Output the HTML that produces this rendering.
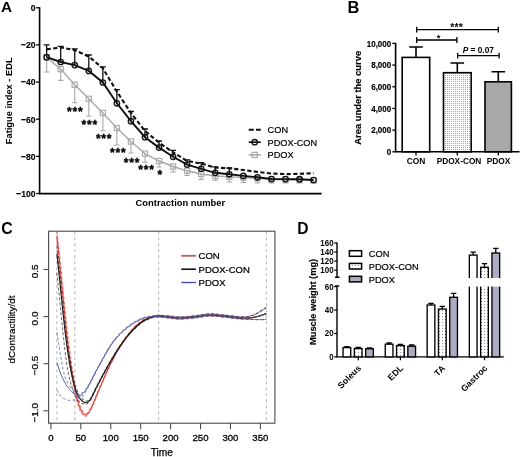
<!DOCTYPE html>
<html><head><meta charset="utf-8"><title>Figure</title>
<style>html,body{margin:0;padding:0;background:#fff;}svg{display:block;}</style></head>
<body><svg width="520" height="457" viewBox="0 0 520 457" font-family='"Liberation Sans", Arial, sans-serif' fill="#000">
<defs>
<pattern id="dots" width="2" height="2" patternUnits="userSpaceOnUse"><rect width="2" height="2" fill="#fff"/><rect x="1" y="1" width="1" height="1" fill="#a2a2a2"/></pattern>
<pattern id="dots2" width="3" height="3" patternUnits="userSpaceOnUse"><rect width="3" height="3" fill="#fff"/><rect x="1" y="1" width="1" height="1" fill="#8a8a8a"/></pattern>
</defs>
<rect width="520" height="457" fill="#fff"/>
<g id="A">
<text x="0.9" y="12.1" font-size="15.3" font-weight="bold">A</text>
<path d="M39.6 7.15V193.6H321.6" fill="none" stroke="#000" stroke-width="1.6"/>
<path d="M36.2 7.75H39.6" stroke="#000" stroke-width="1.3"/>
<text transform="translate(35.6 11.15) scale(1 1.12)" font-size="8.6" font-weight="bold" text-anchor="end" stroke="#000" stroke-width="0.15">0</text>
<path d="M36.2 44.90H39.6" stroke="#000" stroke-width="1.3"/>
<text transform="translate(35.6 48.30) scale(1 1.12)" font-size="8.6" font-weight="bold" text-anchor="end" stroke="#000" stroke-width="0.15">−20</text>
<path d="M36.2 82.05H39.6" stroke="#000" stroke-width="1.3"/>
<text transform="translate(35.6 85.45) scale(1 1.12)" font-size="8.6" font-weight="bold" text-anchor="end" stroke="#000" stroke-width="0.15">−40</text>
<path d="M36.2 119.20H39.6" stroke="#000" stroke-width="1.3"/>
<text transform="translate(35.6 122.60) scale(1 1.12)" font-size="8.6" font-weight="bold" text-anchor="end" stroke="#000" stroke-width="0.15">−60</text>
<path d="M36.2 156.35H39.6" stroke="#000" stroke-width="1.3"/>
<text transform="translate(35.6 159.75) scale(1 1.12)" font-size="8.6" font-weight="bold" text-anchor="end" stroke="#000" stroke-width="0.15">−80</text>
<path d="M36.2 193.50H39.6" stroke="#000" stroke-width="1.3"/>
<text transform="translate(35.6 196.90) scale(1 1.12)" font-size="8.6" font-weight="bold" text-anchor="end" stroke="#000" stroke-width="0.15">−100</text>
<text transform="translate(12.4 100.8) rotate(-90)" font-size="9.3" font-weight="bold" text-anchor="middle">Fatigue index - EDL</text>
<text x="180.4" y="206.3" font-size="9.4" font-weight="bold" text-anchor="middle">Contraction number</text>
<path d="M46.65 57.30V72.00M43.95 72.00H49.35" stroke="#a9a9a9" stroke-width="1.1" fill="none"/>
<path d="M60.70 69.10V80.40M58.00 80.40H63.40" stroke="#a9a9a9" stroke-width="1.1" fill="none"/>
<path d="M74.75 84.80V102.70M72.05 102.70H77.45" stroke="#a9a9a9" stroke-width="1.1" fill="none"/>
<path d="M88.80 98.80V116.20M86.10 116.20H91.50" stroke="#a9a9a9" stroke-width="1.1" fill="none"/>
<path d="M102.85 113.00V130.80M100.15 130.80H105.55" stroke="#a9a9a9" stroke-width="1.1" fill="none"/>
<path d="M116.90 128.00V145.00M114.20 145.00H119.60" stroke="#a9a9a9" stroke-width="1.1" fill="none"/>
<path d="M130.95 141.50V153.00M128.25 153.00H133.65" stroke="#a9a9a9" stroke-width="1.1" fill="none"/>
<path d="M145.00 153.60V162.30M142.30 162.30H147.70" stroke="#a9a9a9" stroke-width="1.1" fill="none"/>
<path d="M159.05 161.00V167.00M156.35 167.00H161.75" stroke="#a9a9a9" stroke-width="1.1" fill="none"/>
<path d="M173.10 166.50V172.00M170.40 172.00H175.80" stroke="#a9a9a9" stroke-width="1.1" fill="none"/>
<path d="M187.15 170.80V175.50M184.45 175.50H189.85" stroke="#a9a9a9" stroke-width="1.1" fill="none"/>
<path d="M201.20 174.00V179.40M198.50 179.40H203.90" stroke="#a9a9a9" stroke-width="1.1" fill="none"/>
<path d="M215.25 176.00V180.30M212.55 180.30H217.95" stroke="#a9a9a9" stroke-width="1.1" fill="none"/>
<path d="M229.30 176.80V182.00M226.60 182.00H232.00" stroke="#a9a9a9" stroke-width="1.1" fill="none"/>
<path d="M243.35 177.60V182.50M240.65 182.50H246.05" stroke="#a9a9a9" stroke-width="1.1" fill="none"/>
<path d="M257.40 178.40V183.00M254.70 183.00H260.10" stroke="#a9a9a9" stroke-width="1.1" fill="none"/>
<path d="M271.45 179.50V183.00M268.75 183.00H274.15" stroke="#a9a9a9" stroke-width="1.1" fill="none"/>
<path d="M285.50 179.80V183.00M282.80 183.00H288.20" stroke="#a9a9a9" stroke-width="1.1" fill="none"/>
<path d="M299.55 180.00V183.00M296.85 183.00H302.25" stroke="#a9a9a9" stroke-width="1.1" fill="none"/>
<path d="M313.60 180.40V183.00M310.90 183.00H316.30" stroke="#a9a9a9" stroke-width="1.1" fill="none"/>
<polyline points="46.65,57.30 60.70,69.10 74.75,84.80 88.80,98.80 102.85,113.00 116.90,128.00 130.95,141.50 145.00,153.60 159.05,161.00 173.10,166.50 187.15,170.80 201.20,174.00 215.25,176.00 229.30,176.80 243.35,177.60 257.40,178.40 271.45,179.50 285.50,179.80 299.55,180.00 313.60,180.40" fill="none" stroke="#a9a9a9" stroke-width="1.4"/>
<rect x="44.05" y="54.70" width="5.2" height="5.2" fill="none" stroke="#a9a9a9" stroke-width="1.15"/>
<rect x="58.10" y="66.50" width="5.2" height="5.2" fill="none" stroke="#a9a9a9" stroke-width="1.15"/>
<rect x="72.15" y="82.20" width="5.2" height="5.2" fill="none" stroke="#a9a9a9" stroke-width="1.15"/>
<rect x="86.20" y="96.20" width="5.2" height="5.2" fill="none" stroke="#a9a9a9" stroke-width="1.15"/>
<rect x="100.25" y="110.40" width="5.2" height="5.2" fill="none" stroke="#a9a9a9" stroke-width="1.15"/>
<rect x="114.30" y="125.40" width="5.2" height="5.2" fill="none" stroke="#a9a9a9" stroke-width="1.15"/>
<rect x="128.35" y="138.90" width="5.2" height="5.2" fill="none" stroke="#a9a9a9" stroke-width="1.15"/>
<rect x="142.40" y="151.00" width="5.2" height="5.2" fill="none" stroke="#a9a9a9" stroke-width="1.15"/>
<rect x="156.45" y="158.40" width="5.2" height="5.2" fill="none" stroke="#a9a9a9" stroke-width="1.15"/>
<rect x="170.50" y="163.90" width="5.2" height="5.2" fill="none" stroke="#a9a9a9" stroke-width="1.15"/>
<rect x="184.55" y="168.20" width="5.2" height="5.2" fill="none" stroke="#a9a9a9" stroke-width="1.15"/>
<rect x="198.60" y="171.40" width="5.2" height="5.2" fill="none" stroke="#a9a9a9" stroke-width="1.15"/>
<rect x="212.65" y="173.40" width="5.2" height="5.2" fill="none" stroke="#a9a9a9" stroke-width="1.15"/>
<rect x="226.70" y="174.20" width="5.2" height="5.2" fill="none" stroke="#a9a9a9" stroke-width="1.15"/>
<rect x="240.75" y="175.00" width="5.2" height="5.2" fill="none" stroke="#a9a9a9" stroke-width="1.15"/>
<rect x="254.80" y="175.80" width="5.2" height="5.2" fill="none" stroke="#a9a9a9" stroke-width="1.15"/>
<rect x="268.85" y="176.90" width="5.2" height="5.2" fill="none" stroke="#a9a9a9" stroke-width="1.15"/>
<rect x="282.90" y="177.20" width="5.2" height="5.2" fill="none" stroke="#a9a9a9" stroke-width="1.15"/>
<rect x="296.95" y="177.40" width="5.2" height="5.2" fill="none" stroke="#a9a9a9" stroke-width="1.15"/>
<rect x="311.00" y="177.80" width="5.2" height="5.2" fill="none" stroke="#a9a9a9" stroke-width="1.15"/>
<path d="M46.65 57.20V44.80M43.65 44.80H49.65" stroke="#111" stroke-width="1.3" fill="none"/>
<path d="M60.70 62.00V46.40M57.70 46.40H63.70" stroke="#111" stroke-width="1.3" fill="none"/>
<path d="M74.75 65.10V48.80M71.75 48.80H77.75" stroke="#111" stroke-width="1.3" fill="none"/>
<path d="M88.80 70.90V55.00M85.80 55.00H91.80" stroke="#111" stroke-width="1.3" fill="none"/>
<path d="M102.85 82.50V66.90M99.85 66.90H105.85" stroke="#111" stroke-width="1.3" fill="none"/>
<path d="M116.90 103.30V89.60M113.90 89.60H119.90" stroke="#111" stroke-width="1.3" fill="none"/>
<path d="M130.95 121.20V111.50M127.95 111.50H133.95" stroke="#111" stroke-width="1.3" fill="none"/>
<path d="M145.00 137.20V129.00M142.00 129.00H148.00" stroke="#111" stroke-width="1.3" fill="none"/>
<path d="M159.05 147.60V141.00M156.05 141.00H162.05" stroke="#111" stroke-width="1.3" fill="none"/>
<path d="M173.10 156.80V150.40M170.10 150.40H176.10" stroke="#111" stroke-width="1.3" fill="none"/>
<path d="M187.15 164.60V159.80M184.15 159.80H190.15" stroke="#111" stroke-width="1.3" fill="none"/>
<path d="M201.20 168.80V162.60M198.20 162.60H204.20" stroke="#111" stroke-width="1.3" fill="none"/>
<path d="M215.25 172.80V166.80M212.25 166.80H218.25" stroke="#111" stroke-width="1.3" fill="none"/>
<path d="M229.30 174.30V168.00M226.30 168.00H232.30" stroke="#111" stroke-width="1.3" fill="none"/>
<polyline points="46.65,49.40 60.70,47.40 74.75,50.10 88.80,56.50 102.85,68.30 116.90,91.60 130.95,113.00 145.00,131.00 159.05,142.60 173.10,152.30 187.15,161.00 201.20,163.50 215.25,167.60 229.30,168.30 243.35,170.00 257.40,171.90 271.45,173.60 285.50,174.10 299.55,173.80 313.60,173.30" fill="none" stroke="#111" stroke-width="2.1" stroke-dasharray="4.2 2.4"/>
<polyline points="46.65,57.20 60.70,62.00 74.75,65.10 88.80,70.90 102.85,82.50 116.90,103.30 130.95,121.20 145.00,137.20 159.05,147.60 173.10,156.80 187.15,164.60 201.20,168.80 215.25,172.80 229.30,174.30 243.35,175.90 257.40,177.30 271.45,179.00 285.50,179.10 299.55,179.20 313.60,180.00" fill="none" stroke="#111" stroke-width="1.9"/>
<circle cx="46.65" cy="57.20" r="2.7" fill="none" stroke="#111" stroke-width="1.3"/>
<circle cx="60.70" cy="62.00" r="2.7" fill="none" stroke="#111" stroke-width="1.3"/>
<circle cx="74.75" cy="65.10" r="2.7" fill="none" stroke="#111" stroke-width="1.3"/>
<circle cx="88.80" cy="70.90" r="2.7" fill="none" stroke="#111" stroke-width="1.3"/>
<circle cx="102.85" cy="82.50" r="2.7" fill="none" stroke="#111" stroke-width="1.3"/>
<circle cx="116.90" cy="103.30" r="2.7" fill="none" stroke="#111" stroke-width="1.3"/>
<circle cx="130.95" cy="121.20" r="2.7" fill="none" stroke="#111" stroke-width="1.3"/>
<circle cx="145.00" cy="137.20" r="2.7" fill="none" stroke="#111" stroke-width="1.3"/>
<circle cx="159.05" cy="147.60" r="2.7" fill="none" stroke="#111" stroke-width="1.3"/>
<circle cx="173.10" cy="156.80" r="2.7" fill="none" stroke="#111" stroke-width="1.3"/>
<circle cx="187.15" cy="164.60" r="2.7" fill="none" stroke="#111" stroke-width="1.3"/>
<circle cx="201.20" cy="168.80" r="2.7" fill="none" stroke="#111" stroke-width="1.3"/>
<circle cx="215.25" cy="172.80" r="2.7" fill="none" stroke="#111" stroke-width="1.3"/>
<circle cx="229.30" cy="174.30" r="2.7" fill="none" stroke="#111" stroke-width="1.3"/>
<circle cx="243.35" cy="175.90" r="2.7" fill="none" stroke="#111" stroke-width="1.3"/>
<circle cx="257.40" cy="177.30" r="2.7" fill="none" stroke="#111" stroke-width="1.3"/>
<circle cx="271.45" cy="179.00" r="2.7" fill="none" stroke="#111" stroke-width="1.3"/>
<circle cx="285.50" cy="179.10" r="2.7" fill="none" stroke="#111" stroke-width="1.3"/>
<circle cx="299.55" cy="179.20" r="2.7" fill="none" stroke="#111" stroke-width="1.3"/>
<circle cx="313.60" cy="180.00" r="2.7" fill="none" stroke="#111" stroke-width="1.3"/>
<text x="75.30" y="115.90" font-size="12" font-weight="bold" text-anchor="middle" letter-spacing="0.8" stroke="#000" stroke-width="0.35">***</text>
<text x="89.80" y="129.00" font-size="12" font-weight="bold" text-anchor="middle" letter-spacing="0.8" stroke="#000" stroke-width="0.35">***</text>
<text x="104.10" y="143.20" font-size="12" font-weight="bold" text-anchor="middle" letter-spacing="0.8" stroke="#000" stroke-width="0.35">***</text>
<text x="118.20" y="157.10" font-size="12" font-weight="bold" text-anchor="middle" letter-spacing="0.8" stroke="#000" stroke-width="0.35">***</text>
<text x="132.00" y="166.70" font-size="12" font-weight="bold" text-anchor="middle" letter-spacing="0.8" stroke="#000" stroke-width="0.35">***</text>
<text x="146.50" y="174.00" font-size="12" font-weight="bold" text-anchor="middle" letter-spacing="0.8" stroke="#000" stroke-width="0.35">***</text>
<text x="160.20" y="178.80" font-size="12" font-weight="bold" text-anchor="middle" letter-spacing="0.8" stroke="#000" stroke-width="0.35">*</text>
<path d="M248.7 129.7H253.8M255.9 129.7H260.8" stroke="#111" stroke-width="2.1"/>
<path d="M248.7 142.2H260.8" stroke="#111" stroke-width="1.7"/>
<circle cx="254.7" cy="142.2" r="2.7" fill="none" stroke="#111" stroke-width="1.3"/>
<path d="M248.7 154.9H260.8" stroke="#a9a9a9" stroke-width="1.6"/>
<rect x="252.1" y="152.3" width="5.2" height="5.2" fill="none" stroke="#a9a9a9" stroke-width="1.15"/>
<text x="267.6" y="132.8" font-size="9.2" stroke="#000" stroke-width="0.2">CON</text>
<text x="267.6" y="145.5" font-size="9.2" stroke="#000" stroke-width="0.2">PDOX-CON</text>
<text x="267.6" y="158.2" font-size="9.2" stroke="#000" stroke-width="0.2">PDOX</text>
</g>
<g id="B">
<text x="347.4" y="12.8" font-size="16.5" font-weight="bold">B</text>
<path d="M395.6 42.80V151.8H519.5" fill="none" stroke="#000" stroke-width="1.6"/>
<path d="M392.3 151.80H395.6" stroke="#000" stroke-width="1.3"/>
<text transform="translate(391.2 155.00) scale(1 1.15)" font-size="8" font-weight="bold" text-anchor="end" stroke="#000" stroke-width="0.15">0</text>
<path d="M392.3 130.12H395.6" stroke="#000" stroke-width="1.3"/>
<text transform="translate(391.2 133.32) scale(1 1.15)" font-size="8" font-weight="bold" text-anchor="end" stroke="#000" stroke-width="0.15">2,000</text>
<path d="M392.3 108.44H395.6" stroke="#000" stroke-width="1.3"/>
<text transform="translate(391.2 111.64) scale(1 1.15)" font-size="8" font-weight="bold" text-anchor="end" stroke="#000" stroke-width="0.15">4,000</text>
<path d="M392.3 86.76H395.6" stroke="#000" stroke-width="1.3"/>
<text transform="translate(391.2 89.96) scale(1 1.15)" font-size="8" font-weight="bold" text-anchor="end" stroke="#000" stroke-width="0.15">6,000</text>
<path d="M392.3 65.08H395.6" stroke="#000" stroke-width="1.3"/>
<text transform="translate(391.2 68.28) scale(1 1.15)" font-size="8" font-weight="bold" text-anchor="end" stroke="#000" stroke-width="0.15">8,000</text>
<path d="M392.3 43.40H395.6" stroke="#000" stroke-width="1.3"/>
<text transform="translate(391.2 46.60) scale(1 1.15)" font-size="8" font-weight="bold" text-anchor="end" stroke="#000" stroke-width="0.15">10,000</text>
<text transform="translate(360.6 97.8) rotate(-90)" font-size="9.4" font-weight="bold" text-anchor="middle" stroke="#000" stroke-width="0.15">Area under the curve</text>
<path d="M416.0 57.4V47.0M409.20 47.0H422.80" stroke="#000" stroke-width="1.6"/>
<rect x="402.2" y="57.4" width="27.50" height="94.40" fill="#fff" stroke="#000" stroke-width="1.6"/>
<path d="M416.0 151.8V155.4" stroke="#000" stroke-width="1.3"/>
<path d="M457.3 72.7V63.0M450.50 63.0H464.10" stroke="#000" stroke-width="1.6"/>
<rect x="443.5" y="72.7" width="27.70" height="79.10" fill="url(#dots)" stroke="#000" stroke-width="1.6"/>
<path d="M457.3 151.8V155.4" stroke="#000" stroke-width="1.3"/>
<path d="M498.3 81.8V71.8M491.50 71.8H505.10" stroke="#000" stroke-width="1.6"/>
<rect x="485.0" y="81.8" width="26.40" height="70.00" fill="#a8a8a8" stroke="#000" stroke-width="1.6"/>
<path d="M498.3 151.8V155.4" stroke="#000" stroke-width="1.3"/>
<text x="416" y="164.1" font-size="8.4" font-weight="bold" text-anchor="middle">CON</text>
<text x="459" y="164.1" font-size="8.3" font-weight="bold" text-anchor="middle">PDOX-CON</text>
<text x="498.6" y="164.1" font-size="8.4" font-weight="bold" text-anchor="middle">PDOX</text>
<path d="M416.7 29.6H498.3M416.7 26.700000000000003V32.5M498.3 26.700000000000003V32.5" stroke="#000" stroke-width="1.3" fill="none"/>
<path d="M416.7 40.0H456.9M416.7 37.1V42.9M456.9 37.1V42.9" stroke="#000" stroke-width="1.3" fill="none"/>
<path d="M457.6 55.7H499.1M457.6 52.800000000000004V58.6M499.1 52.800000000000004V58.6" stroke="#000" stroke-width="1.3" fill="none"/>
<text x="456.7" y="30.6" font-size="10.5" font-weight="bold" text-anchor="middle" letter-spacing="0.2">***</text>
<text x="438.5" y="40.6" font-size="9.5" font-weight="bold" text-anchor="middle">*</text>
<text x="478.3" y="52.7" font-size="8.3" font-weight="bold" text-anchor="middle"><tspan font-style="italic">P</tspan> = 0.07</text>
</g>
<g id="C">
<text x="1.3" y="233.7" font-size="15.8" font-weight="bold">C</text>
<path d="M56.88 231.2V423.2" stroke="#b4b4b4" stroke-width="1" stroke-dasharray="3 3"/>
<path d="M74.84 231.2V423.2" stroke="#b4b4b4" stroke-width="1" stroke-dasharray="3 3"/>
<path d="M158.63 231.2V423.2" stroke="#b4b4b4" stroke-width="1" stroke-dasharray="3 3"/>
<path d="M266.36 231.2V423.2" stroke="#b4b4b4" stroke-width="1" stroke-dasharray="3 3"/>
<path d="M56.88 235.61 L57.48 241.24 L58.08 246.91 L58.68 252.78 L59.28 258.86 L59.88 264.96 L60.48 271.02 L61.07 277.08 L61.67 283.14 L62.27 289.21 L62.87 295.27 L63.47 301.40 L64.07 307.61 L64.67 313.79 L65.26 319.81 L65.86 325.57 L66.46 331.06 L67.06 336.37 L67.66 341.48 L68.26 346.40 L68.86 351.14 L69.45 355.67 L70.05 360.00 L70.65 364.14 L71.25 368.12 L71.85 371.97 L72.45 375.70 L73.04 379.29 L73.64 382.72 L74.24 385.97 L74.84 389.02 L75.44 391.84 L76.04 394.47 L76.64 396.91 L77.23 399.19 L77.83 401.33 L78.43 403.33 L79.03 405.17 L79.63 406.87 L80.23 408.42 L80.83 409.85 L81.42 411.07 L82.02 412.06 L82.62 412.89 L83.22 413.64 L83.82 414.30 L84.42 414.79 L85.01 415.06 L85.61 415.11 L86.21 414.96 L86.81 414.59 L87.41 414.06 L88.01 413.40 L88.61 412.63 L89.20 411.75 L89.80 410.76 L90.40 409.68 L91.00 408.54 L91.60 407.33 L92.20 406.07 L92.80 404.73 L93.39 403.34 L93.99 401.90 L94.59 400.44 L95.19 398.98 L95.79 397.54 L96.39 396.12 L96.98 394.69 L97.58 393.25 L98.18 391.82 L98.78 390.39 L99.38 388.96 L99.98 387.54 L100.58 386.12 L101.17 384.72 L101.77 383.34 L102.37 381.96 L102.97 380.58 L103.57 379.20 L104.17 377.83 L104.77 376.46 L105.36 375.10 L105.96 373.75 L106.56 372.41 L107.16 371.09 L107.76 369.78 L108.36 368.50 L108.95 367.24 L109.55 365.99 L110.15 364.76 L110.75 363.54 L111.35 362.33 L111.95 361.14 L112.55 359.96 L113.14 358.79 L113.74 357.63 L114.34 356.49 L114.94 355.37 L115.54 354.26 L116.14 353.16 L116.74 352.09 L117.33 351.03 L117.93 350.02 L118.53 349.03 L119.13 348.07 L119.73 347.14 L120.33 346.22 L120.92 345.31 L121.52 344.41 L122.12 343.51 L122.72 342.62 L123.32 341.72 L123.92 340.82 L124.52 339.93 L125.11 339.04 L125.71 338.17 L126.31 337.31 L126.91 336.47 L127.51 335.66 L128.11 334.86 L128.71 334.09 L129.30 333.34 L129.90 332.60 L130.50 331.87 L131.10 331.16 L131.70 330.45 L132.30 329.76 L132.89 329.09 L133.49 328.44 L134.09 327.80 L134.69 327.19 L135.29 326.61 L135.89 326.04 L136.49 325.50 L137.08 324.99 L137.68 324.49 L138.28 324.01 L138.88 323.55 L139.48 323.10 L140.08 322.67 L140.68 322.25 L141.27 321.85 L141.87 321.46 L142.47 321.09 L143.07 320.72 L143.67 320.36 L144.27 320.02 L144.86 319.69 L145.46 319.37 L146.06 319.08 L146.66 318.79 L147.26 318.53 L147.86 318.27 L148.46 318.04 L149.05 317.81 L149.65 317.61 L150.25 317.41 L150.85 317.24 L151.45 317.07 L152.05 316.92 L152.65 316.79 L153.24 316.66 L153.84 316.55 L154.44 316.46 L155.04 316.37 L155.64 316.30 L156.24 316.24 L156.83 316.19 L157.43 316.15 L158.03 316.12 L158.63 316.10 L159.23 316.09 L159.83 316.10 L160.43 316.13 L161.02 316.16 L161.62 316.21 L162.22 316.26 L162.82 316.32 L163.42 316.39 L164.02 316.45 L164.62 316.53 L165.21 316.60 L165.81 316.67 L166.41 316.74 L167.01 316.80 L167.61 316.86 L168.21 316.91 L168.80 316.98 L169.40 317.04 L170.00 317.11 L170.60 317.19 L171.20 317.26 L171.80 317.34 L172.40 317.41 L172.99 317.49 L173.59 317.56 L174.19 317.63 L174.79 317.70 L175.39 317.76 L175.99 317.82 L176.59 317.87 L177.18 317.91 L177.78 317.95 L178.38 317.97 L178.98 317.99 L179.58 317.99 L180.18 317.99 L180.77 317.98 L181.37 317.97 L181.97 317.95 L182.57 317.92 L183.17 317.90 L183.77 317.86 L184.37 317.82 L184.96 317.78 L185.56 317.74 L186.16 317.69 L186.76 317.64 L187.36 317.59 L187.96 317.53 L188.56 317.48 L189.15 317.42 L189.75 317.36 L190.35 317.29 L190.95 317.23 L191.55 317.17 L192.15 317.11 L192.74 317.04 L193.34 316.98 L193.94 316.92 L194.54 316.86 L195.14 316.79 L195.74 316.72 L196.34 316.65 L196.93 316.56 L197.53 316.48 L198.13 316.39 L198.73 316.30 L199.33 316.20 L199.93 316.11 L200.53 316.01 L201.12 315.91 L201.72 315.82 L202.32 315.72 L202.92 315.63 L203.52 315.54 L204.12 315.45 L204.71 315.37 L205.31 315.30 L205.91 315.22 L206.51 315.16 L207.11 315.10 L207.71 315.05 L208.31 315.01 L208.90 314.98 L209.50 314.96 L210.10 314.95 L210.70 314.95 L211.30 314.96 L211.90 314.97 L212.50 314.99 L213.09 315.02 L213.69 315.05 L214.29 315.09 L214.89 315.13 L215.49 315.18 L216.09 315.23 L216.68 315.28 L217.28 315.34 L217.88 315.40 L218.48 315.47 L219.08 315.53 L219.68 315.60 L220.28 315.66 L220.87 315.73 L221.47 315.79 L222.07 315.86 L222.67 315.92 L223.27 315.98 L223.87 316.04 L224.47 316.10 L225.06 316.16 L225.66 316.22 L226.26 316.28 L226.86 316.35 L227.46 316.42 L228.06 316.49 L228.65 316.56 L229.25 316.63 L229.85 316.71 L230.45 316.79 L231.05 316.86 L231.65 316.94 L232.25 317.02 L232.84 317.09 L233.44 317.17 L234.04 317.24 L234.64 317.32 L235.24 317.39 L235.84 317.46 L236.44 317.52 L237.03 317.59 L237.63 317.65 L238.23 317.71 L238.83 317.76 L239.43 317.81 L240.03 317.86 L240.62 317.90 L241.22 317.94 L241.82 317.97 L242.42 317.99 L243.02 318.01 L243.62 318.03 L244.22 318.04 L244.81 318.04 L245.41 318.04 L246.01 318.03 L246.61 318.02 L247.21 318.00 L247.81 317.97 L248.41 317.94 L249.00 317.90 L249.60 317.85 L250.20 317.80 L250.80 317.74 L251.40 317.68 L252.00 317.60 L252.59 317.52 L253.19 317.43 L253.79 317.34 L254.39 317.24 L254.99 317.12 L255.59 317.00 L256.19 316.86 L256.78 316.71 L257.38 316.55 L257.98 316.39 L258.58 316.21 L259.18 316.03 L259.78 315.85 L260.38 315.66 L260.97 315.46 L261.57 315.27 L262.17 315.07 L262.77 314.87 L263.37 314.67 L263.97 314.48 L264.56 314.28 L265.16 314.10 L265.76 313.91 L266.36 313.73" fill="none" stroke="#e0453c" stroke-width="1.15"/>
<path d="M56.88 231.82 L57.48 236.66 L58.08 241.54 L58.68 246.62 L59.28 251.91 L59.88 257.23 L60.48 262.50 L61.07 268.56 L61.67 274.62 L62.27 280.68 L62.87 286.74 L63.47 292.88 L64.07 299.09 L64.67 305.27 L65.26 311.29 L65.86 317.05 L66.46 322.54 L67.06 327.84 L67.66 332.96 L68.26 337.88 L68.86 342.62 L69.45 347.53 L70.05 352.23 L70.65 356.75 L71.25 361.12 L71.85 365.34 L72.45 369.45 L73.04 373.42 L73.64 377.23 L74.24 380.86 L74.84 384.28 L75.44 387.35 L76.04 390.20 L76.64 392.88 L77.23 395.40 L77.83 397.78 L78.43 400.02 L79.03 402.10 L79.63 404.03 L80.23 405.82 L80.83 407.49 L81.42 408.80 L82.02 409.88 L82.62 410.80 L83.22 411.65 L83.82 412.41 L84.42 412.99 L85.01 413.36 L85.61 413.50 L86.21 413.44 L86.81 413.17 L87.41 412.67 L88.01 412.05 L88.61 411.31 L89.20 410.46 L89.80 409.50 L90.40 408.46 L91.00 407.35 L91.60 406.18 L92.20 404.94 L92.80 403.65 L93.39 402.28 L93.99 400.88 L94.59 399.45 L95.19 398.02 L95.79 396.62 L96.39 395.23 L96.98 393.83 L97.58 392.43 L98.18 391.03 L98.78 389.63 L99.38 388.20 L99.98 386.78 L100.58 385.37 L101.17 383.97 L101.77 382.59 L102.37 381.21 L102.97 379.84 L103.57 378.46 L104.17 377.09 L104.77 375.72 L105.36 374.36 L105.96 373.02 L106.56 371.68 L107.16 370.36 L107.76 369.06 L108.36 367.78 L108.95 366.52 L109.55 365.28 L110.15 364.05 L110.75 362.83 L111.35 361.62 L111.95 360.43 L112.55 359.25 L113.14 358.09 L113.74 356.94 L114.34 355.80 L114.94 354.68 L115.54 353.57 L116.14 352.48 L116.74 351.40 L117.33 350.35 L117.93 349.34 L118.53 348.35 L119.13 347.40 L119.73 346.46 L120.33 345.54 L120.92 344.64 L121.52 343.74 L122.12 342.85 L122.72 341.95 L123.32 341.06 L123.92 340.16 L124.52 339.27 L125.11 338.39 L125.71 337.52 L126.31 336.67 L126.91 335.83 L127.51 335.01 L128.11 334.22 L128.71 333.45 L129.30 332.71 L129.90 331.97 L130.50 331.24 L131.10 330.53 L131.70 329.82 L132.30 329.14 L132.89 328.47 L133.49 327.82 L134.09 327.19 L134.69 326.58 L135.29 325.99 L135.89 325.43 L136.49 324.90 L137.08 324.38 L137.68 323.88 L138.28 323.41 L138.88 322.95 L139.48 322.50 L140.08 322.07 L140.68 321.66 L141.27 321.26 L141.87 320.88 L142.47 320.50 L143.07 320.14 L143.67 319.78 L144.27 319.44 L144.86 319.11 L145.46 318.80 L146.06 318.51 L146.66 318.23 L147.26 317.95 L147.86 317.69 L148.46 317.44 L149.05 317.21 L149.65 316.99 L150.25 316.79 L150.85 316.60 L151.45 316.43 L152.05 316.27 L152.65 316.12 L153.24 315.99 L153.84 315.87 L154.44 315.77 L155.04 315.67 L155.64 315.59 L156.24 315.52 L156.83 315.46 L157.43 315.41 L158.03 315.37 L158.63 315.34 L159.23 315.33 L159.83 315.33 L160.43 315.34 L161.02 315.37 L161.62 315.40 L162.22 315.45 L162.82 315.50 L163.42 315.55 L164.02 315.61 L164.62 315.67 L165.21 315.74 L165.81 315.80 L166.41 315.86 L167.01 315.91 L167.61 315.96 L168.21 316.01 L168.80 316.06 L169.40 316.12 L170.00 316.18 L170.60 316.24 L171.20 316.32 L171.80 316.39 L172.40 316.47 L172.99 316.54 L173.59 316.61 L174.19 316.68 L174.79 316.75 L175.39 316.81 L175.99 316.87 L176.59 316.92 L177.18 316.96 L177.78 317.00 L178.38 317.02 L178.98 317.04 L179.58 317.05 L180.18 317.04 L180.77 317.04 L181.37 317.02 L181.97 317.00 L182.57 316.98 L183.17 316.95 L183.77 316.92 L184.37 316.88 L184.96 316.84 L185.56 316.79 L186.16 316.74 L186.76 316.69 L187.36 316.64 L187.96 316.59 L188.56 316.53 L189.15 316.47 L189.75 316.41 L190.35 316.35 L190.95 316.29 L191.55 316.22 L192.15 316.16 L192.74 316.10 L193.34 316.03 L193.94 315.97 L194.54 315.91 L195.14 315.85 L195.74 315.78 L196.34 315.70 L196.93 315.62 L197.53 315.53 L198.13 315.44 L198.73 315.35 L199.33 315.26 L199.93 315.16 L200.53 315.06 L201.12 314.97 L201.72 314.87 L202.32 314.77 L202.92 314.68 L203.52 314.59 L204.12 314.51 L204.71 314.42 L205.31 314.35 L205.91 314.28 L206.51 314.21 L207.11 314.16 L207.71 314.11 L208.31 314.07 L208.90 314.04 L209.50 314.02 L210.10 314.01 L210.70 314.00 L211.30 314.01 L211.90 314.02 L212.50 314.04 L213.09 314.07 L213.69 314.10 L214.29 314.14 L214.89 314.18 L215.49 314.23 L216.09 314.28 L216.68 314.34 L217.28 314.39 L217.88 314.46 L218.48 314.52 L219.08 314.58 L219.68 314.65 L220.28 314.71 L220.87 314.78 L221.47 314.85 L222.07 314.91 L222.67 314.98 L223.27 315.04 L223.87 315.10 L224.47 315.15 L225.06 315.21 L225.66 315.27 L226.26 315.33 L226.86 315.40 L227.46 315.47 L228.06 315.54 L228.65 315.61 L229.25 315.69 L229.85 315.76 L230.45 315.84 L231.05 315.92 L231.65 315.99 L232.25 316.07 L232.84 316.15 L233.44 316.22 L234.04 316.30 L234.64 316.37 L235.24 316.44 L235.84 316.51 L236.44 316.58 L237.03 316.64 L237.63 316.70 L238.23 316.76 L238.83 316.82 L239.43 316.87 L240.03 316.91 L240.62 316.95 L241.22 316.99 L241.82 317.02 L242.42 317.05 L243.02 317.07 L243.62 317.08 L244.22 317.09 L244.81 317.09 L245.41 317.09 L246.01 316.99 L246.61 316.88 L247.21 316.77 L247.81 316.65 L248.41 316.52 L249.00 316.38 L249.60 316.24 L250.20 316.10 L250.80 315.94 L251.40 315.78 L252.00 315.61 L252.59 315.44 L253.19 315.26 L253.79 315.07 L254.39 314.87 L254.99 314.57 L255.59 314.25 L256.19 313.92 L256.78 313.59 L257.38 313.24 L257.98 312.88 L258.58 312.52 L259.18 312.15 L259.78 311.77 L260.38 311.39 L260.97 311.01 L261.57 310.63 L262.17 310.24 L262.77 309.85 L263.37 309.46 L263.97 309.08 L264.56 308.70 L265.16 308.32 L265.76 307.94 L266.36 307.58" fill="none" stroke="#e0453c" stroke-width="1.05" stroke-dasharray="3 2" stroke-opacity="0.65"/>
<path d="M56.88 240.34 L57.48 246.77 L58.08 253.22 L58.68 259.88 L59.28 266.75 L59.88 273.64 L60.48 280.49 L61.07 286.49 L61.67 292.48 L62.27 298.47 L62.87 304.47 L63.47 310.53 L64.07 316.68 L64.67 322.79 L65.26 328.74 L65.86 334.43 L66.46 339.86 L67.06 345.09 L67.66 350.14 L68.26 354.99 L68.86 359.66 L69.45 363.81 L70.05 367.76 L70.65 371.53 L71.25 375.13 L71.85 378.60 L72.45 381.95 L73.04 385.16 L73.64 388.22 L74.24 391.09 L74.84 393.75 L75.44 396.34 L76.04 398.73 L76.64 400.93 L77.23 402.97 L77.83 404.88 L78.43 406.65 L79.03 408.25 L79.63 409.71 L80.23 411.03 L80.83 412.22 L81.42 413.35 L82.02 414.24 L82.62 414.97 L83.22 415.63 L83.82 416.20 L84.42 416.59 L85.01 416.77 L85.61 416.72 L86.21 416.47 L86.81 416.01 L87.41 415.44 L88.01 414.76 L88.61 413.96 L89.20 413.03 L89.80 412.01 L90.40 410.91 L91.00 409.73 L91.60 408.49 L92.20 407.19 L92.80 405.82 L93.39 404.39 L93.99 402.92 L94.59 401.43 L95.19 399.94 L95.79 398.47 L96.39 397.01 L96.98 395.54 L97.58 394.08 L98.18 392.61 L98.78 391.14 L99.38 389.71 L99.98 388.29 L100.58 386.87 L101.17 385.47 L101.77 384.08 L102.37 382.70 L102.97 381.32 L103.57 379.94 L104.17 378.56 L104.77 377.19 L105.36 375.83 L105.96 374.48 L106.56 373.14 L107.16 371.81 L107.76 370.51 L108.36 369.22 L108.95 367.96 L109.55 366.71 L110.15 365.47 L110.75 364.25 L111.35 363.04 L111.95 361.84 L112.55 360.66 L113.14 359.49 L113.74 358.33 L114.34 357.19 L114.94 356.06 L115.54 354.95 L116.14 353.85 L116.74 352.77 L117.33 351.72 L117.93 350.70 L118.53 349.71 L119.13 348.75 L119.73 347.81 L120.33 346.89 L120.92 345.98 L121.52 345.08 L122.12 344.18 L122.72 343.28 L123.32 342.38 L123.92 341.48 L124.52 340.58 L125.11 339.70 L125.71 338.82 L126.31 337.96 L126.91 337.12 L127.51 336.30 L128.11 335.50 L128.71 334.73 L129.30 333.98 L129.90 333.24 L130.50 332.51 L131.10 331.78 L131.70 331.08 L132.30 330.39 L132.89 329.71 L133.49 329.06 L134.09 328.42 L134.69 327.81 L135.29 327.22 L135.89 326.65 L136.49 326.11 L137.08 325.59 L137.68 325.09 L138.28 324.61 L138.88 324.14 L139.48 323.70 L140.08 323.26 L140.68 322.85 L141.27 322.44 L141.87 322.05 L142.47 321.67 L143.07 321.30 L143.67 320.94 L144.27 320.59 L144.86 320.26 L145.46 319.95 L146.06 319.65 L146.66 319.36 L147.26 319.10 L147.86 318.86 L148.46 318.63 L149.05 318.42 L149.65 318.22 L150.25 318.04 L150.85 317.87 L151.45 317.72 L152.05 317.58 L152.65 317.45 L153.24 317.34 L153.84 317.24 L154.44 317.15 L155.04 317.07 L155.64 317.01 L156.24 316.96 L156.83 316.92 L157.43 316.89 L158.03 316.87 L158.63 316.86 L159.23 316.86 L159.83 316.88 L160.43 316.91 L161.02 316.96 L161.62 317.01 L162.22 317.07 L162.82 317.14 L163.42 317.22 L164.02 317.30 L164.62 317.38 L165.21 317.46 L165.81 317.54 L166.41 317.62 L167.01 317.69 L167.61 317.76 L168.21 317.82 L168.80 317.90 L169.40 317.97 L170.00 318.05 L170.60 318.13 L171.20 318.21 L171.80 318.28 L172.40 318.36 L172.99 318.44 L173.59 318.51 L174.19 318.58 L174.79 318.64 L175.39 318.71 L175.99 318.76 L176.59 318.81 L177.18 318.86 L177.78 318.89 L178.38 318.92 L178.98 318.94 L179.58 318.94 L180.18 318.94 L180.77 318.93 L181.37 318.92 L181.97 318.90 L182.57 318.87 L183.17 318.84 L183.77 318.81 L184.37 318.77 L184.96 318.73 L185.56 318.69 L186.16 318.64 L186.76 318.59 L187.36 318.54 L187.96 318.48 L188.56 318.42 L189.15 318.36 L189.75 318.30 L190.35 318.24 L190.95 318.18 L191.55 318.12 L192.15 318.05 L192.74 317.99 L193.34 317.93 L193.94 317.87 L194.54 317.80 L195.14 317.74 L195.74 317.67 L196.34 317.59 L196.93 317.51 L197.53 317.43 L198.13 317.34 L198.73 317.24 L199.33 317.15 L199.93 317.05 L200.53 316.96 L201.12 316.86 L201.72 316.76 L202.32 316.67 L202.92 316.58 L203.52 316.49 L204.12 316.40 L204.71 316.32 L205.31 316.24 L205.91 316.17 L206.51 316.11 L207.11 316.05 L207.71 316.00 L208.31 315.96 L208.90 315.93 L209.50 315.91 L210.10 315.90 L210.70 315.90 L211.30 315.90 L211.90 315.92 L212.50 315.94 L213.09 315.96 L213.69 316.00 L214.29 316.03 L214.89 316.08 L215.49 316.12 L216.09 316.18 L216.68 316.23 L217.28 316.29 L217.88 316.35 L218.48 316.41 L219.08 316.48 L219.68 316.54 L220.28 316.61 L220.87 316.67 L221.47 316.74 L222.07 316.81 L222.67 316.87 L223.27 316.93 L223.87 316.99 L224.47 317.05 L225.06 317.10 L225.66 317.16 L226.26 317.23 L226.86 317.29 L227.46 317.36 L228.06 317.43 L228.65 317.51 L229.25 317.58 L229.85 317.66 L230.45 317.73 L231.05 317.81 L231.65 317.89 L232.25 317.96 L232.84 318.04 L233.44 318.12 L234.04 318.19 L234.64 318.26 L235.24 318.33 L235.84 318.40 L236.44 318.47 L237.03 318.54 L237.63 318.60 L238.23 318.66 L238.83 318.71 L239.43 318.76 L240.03 318.81 L240.62 318.85 L241.22 318.88 L241.82 318.92 L242.42 318.94 L243.02 318.96 L243.62 318.98 L244.22 318.98 L244.81 318.99 L245.41 318.99 L246.01 319.05 L246.61 319.12 L247.21 319.17 L247.81 319.22 L248.41 319.26 L249.00 319.30 L249.60 319.33 L250.20 319.35 L250.80 319.37 L251.40 319.38 L252.00 319.38 L252.59 319.38 L253.19 319.37 L253.79 319.35 L254.39 319.32 L254.99 319.39 L255.59 319.44 L256.19 319.48 L256.78 319.51 L257.38 319.54 L257.98 319.55 L258.58 319.56 L259.18 319.56 L259.78 319.55 L260.38 319.54 L260.97 319.52 L261.57 319.51 L262.17 319.49 L262.77 319.47 L263.37 319.46 L263.97 319.44 L264.56 319.43 L265.16 319.42 L265.76 319.41 L266.36 319.41" fill="none" stroke="#e0453c" stroke-width="1.05" stroke-dasharray="3 2" stroke-opacity="0.65"/>
<path d="M56.88 253.60 L57.48 259.28 L58.08 264.96 L58.68 270.63 L59.28 276.28 L59.88 282.01 L60.48 287.88 L61.07 293.84 L61.67 299.80 L62.27 305.67 L62.87 311.37 L63.47 316.94 L64.07 322.45 L64.67 327.82 L65.26 332.99 L65.86 337.88 L66.46 342.49 L67.06 346.85 L67.66 351.00 L68.26 354.94 L68.86 358.72 L69.45 362.30 L70.05 365.68 L70.65 368.87 L71.25 371.91 L71.85 374.81 L72.45 377.59 L73.04 380.22 L73.64 382.69 L74.24 385.00 L74.84 387.12 L75.44 389.07 L76.04 390.82 L76.64 392.42 L77.23 393.86 L77.83 395.17 L78.43 396.33 L79.03 397.31 L79.63 398.16 L80.23 398.92 L80.83 399.63 L81.42 400.26 L82.02 400.80 L82.62 401.27 L83.22 401.69 L83.82 402.09 L84.42 402.44 L85.01 402.68 L85.61 402.75 L86.21 402.67 L86.81 402.49 L87.41 402.21 L88.01 401.80 L88.61 401.32 L89.20 400.78 L89.80 400.16 L90.40 399.40 L91.00 398.49 L91.60 397.43 L92.20 396.29 L92.80 395.09 L93.39 393.85 L93.99 392.58 L94.59 391.30 L95.19 390.03 L95.79 388.79 L96.39 387.60 L96.98 386.42 L97.58 385.24 L98.18 384.06 L98.78 382.89 L99.38 381.73 L99.98 380.58 L100.58 379.44 L101.17 378.30 L101.77 377.18 L102.37 376.07 L102.97 374.96 L103.57 373.86 L104.17 372.76 L104.77 371.67 L105.36 370.58 L105.96 369.50 L106.56 368.42 L107.16 367.35 L107.76 366.29 L108.36 365.23 L108.95 364.18 L109.55 363.14 L110.15 362.10 L110.75 361.07 L111.35 360.04 L111.95 359.02 L112.55 358.01 L113.14 357.01 L113.74 356.01 L114.34 355.02 L114.94 354.03 L115.54 353.06 L116.14 352.10 L116.74 351.14 L117.33 350.19 L117.93 349.26 L118.53 348.35 L119.13 347.44 L119.73 346.55 L120.33 345.68 L120.92 344.81 L121.52 343.96 L122.12 343.12 L122.72 342.28 L123.32 341.46 L123.92 340.65 L124.52 339.84 L125.11 339.04 L125.71 338.26 L126.31 337.49 L126.91 336.73 L127.51 335.99 L128.11 335.27 L128.71 334.57 L129.30 333.88 L129.90 333.22 L130.50 332.56 L131.10 331.92 L131.70 331.30 L132.30 330.68 L132.89 330.08 L133.49 329.49 L134.09 328.90 L134.69 328.32 L135.29 327.75 L135.89 327.18 L136.49 326.61 L137.08 326.05 L137.68 325.50 L138.28 324.96 L138.88 324.43 L139.48 323.91 L140.08 323.42 L140.68 322.94 L141.27 322.49 L141.87 322.07 L142.47 321.67 L143.07 321.29 L143.67 320.94 L144.27 320.60 L144.86 320.28 L145.46 319.98 L146.06 319.68 L146.66 319.40 L147.26 319.12 L147.86 318.85 L148.46 318.58 L149.05 318.31 L149.65 318.05 L150.25 317.81 L150.85 317.58 L151.45 317.37 L152.05 317.17 L152.65 316.99 L153.24 316.82 L153.84 316.67 L154.44 316.53 L155.04 316.42 L155.64 316.32 L156.24 316.23 L156.83 316.17 L157.43 316.13 L158.03 316.10 L158.63 316.10 L159.23 316.11 L159.83 316.14 L160.43 316.17 L161.02 316.21 L161.62 316.25 L162.22 316.31 L162.82 316.36 L163.42 316.42 L164.02 316.49 L164.62 316.55 L165.21 316.61 L165.81 316.68 L166.41 316.74 L167.01 316.80 L167.61 316.86 L168.21 316.91 L168.80 316.98 L169.40 317.04 L170.00 317.11 L170.60 317.19 L171.20 317.26 L171.80 317.34 L172.40 317.41 L172.99 317.49 L173.59 317.56 L174.19 317.63 L174.79 317.70 L175.39 317.76 L175.99 317.82 L176.59 317.87 L177.18 317.91 L177.78 317.95 L178.38 317.97 L178.98 317.99 L179.58 317.99 L180.18 317.99 L180.77 317.98 L181.37 317.97 L181.97 317.95 L182.57 317.92 L183.17 317.90 L183.77 317.86 L184.37 317.82 L184.96 317.78 L185.56 317.74 L186.16 317.69 L186.76 317.64 L187.36 317.59 L187.96 317.53 L188.56 317.48 L189.15 317.42 L189.75 317.36 L190.35 317.29 L190.95 317.23 L191.55 317.17 L192.15 317.11 L192.74 317.04 L193.34 316.98 L193.94 316.92 L194.54 316.86 L195.14 316.79 L195.74 316.72 L196.34 316.65 L196.93 316.56 L197.53 316.48 L198.13 316.39 L198.73 316.30 L199.33 316.20 L199.93 316.11 L200.53 316.01 L201.12 315.91 L201.72 315.82 L202.32 315.72 L202.92 315.63 L203.52 315.54 L204.12 315.45 L204.71 315.37 L205.31 315.30 L205.91 315.22 L206.51 315.16 L207.11 315.10 L207.71 315.05 L208.31 315.01 L208.90 314.98 L209.50 314.96 L210.10 314.95 L210.70 314.95 L211.30 314.96 L211.90 314.97 L212.50 314.99 L213.09 315.02 L213.69 315.05 L214.29 315.09 L214.89 315.13 L215.49 315.18 L216.09 315.23 L216.68 315.28 L217.28 315.34 L217.88 315.40 L218.48 315.47 L219.08 315.53 L219.68 315.60 L220.28 315.66 L220.87 315.73 L221.47 315.79 L222.07 315.86 L222.67 315.92 L223.27 315.98 L223.87 316.04 L224.47 316.10 L225.06 316.16 L225.66 316.22 L226.26 316.28 L226.86 316.35 L227.46 316.42 L228.06 316.49 L228.65 316.56 L229.25 316.63 L229.85 316.71 L230.45 316.79 L231.05 316.86 L231.65 316.94 L232.25 317.02 L232.84 317.09 L233.44 317.17 L234.04 317.24 L234.64 317.32 L235.24 317.39 L235.84 317.46 L236.44 317.52 L237.03 317.59 L237.63 317.65 L238.23 317.71 L238.83 317.76 L239.43 317.81 L240.03 317.86 L240.62 317.90 L241.22 317.94 L241.82 317.97 L242.42 317.99 L243.02 318.01 L243.62 318.03 L244.22 318.04 L244.81 318.04 L245.41 318.04 L246.01 318.03 L246.61 318.02 L247.21 318.00 L247.81 317.97 L248.41 317.94 L249.00 317.90 L249.60 317.85 L250.20 317.80 L250.80 317.74 L251.40 317.68 L252.00 317.60 L252.59 317.52 L253.19 317.43 L253.79 317.34 L254.39 317.24 L254.99 317.12 L255.59 317.00 L256.19 316.86 L256.78 316.71 L257.38 316.55 L257.98 316.39 L258.58 316.21 L259.18 316.03 L259.78 315.85 L260.38 315.66 L260.97 315.46 L261.57 315.27 L262.17 315.07 L262.77 314.87 L263.37 314.67 L263.97 314.48 L264.56 314.28 L265.16 314.10 L265.76 313.91 L266.36 313.73" fill="none" stroke="#1a1a1a" stroke-width="1.15"/>
<path d="M56.88 246.02 L57.48 251.80 L58.08 257.58 L58.68 263.34 L59.28 269.08 L59.88 274.91 L60.48 280.88 L61.07 286.93 L61.67 292.98 L62.27 298.94 L62.87 304.74 L63.47 310.45 L64.07 316.10 L64.67 321.62 L65.26 326.93 L65.86 331.96 L66.46 336.71 L67.06 341.22 L67.66 345.50 L68.26 349.59 L68.86 353.51 L69.45 357.23 L70.05 360.75 L70.65 364.09 L71.25 367.27 L71.85 370.32 L72.45 373.23 L73.04 376.00 L73.64 378.62 L74.24 381.07 L74.84 383.34 L75.44 385.42 L76.04 387.32 L76.64 389.06 L77.23 390.64 L77.83 392.10 L78.43 393.39 L79.03 394.52 L79.63 395.51 L80.23 396.41 L80.83 397.26 L81.42 397.99 L82.02 398.62 L82.62 399.19 L83.22 399.70 L83.82 400.19 L84.42 400.64 L85.01 400.98 L85.61 401.14 L86.21 401.15 L86.81 401.07 L87.41 400.82 L88.01 400.45 L88.61 400.00 L89.20 399.49 L89.80 398.90 L90.40 398.18 L91.00 397.30 L91.60 396.28 L92.20 395.17 L92.80 394.00 L93.39 392.79 L93.99 391.55 L94.59 390.31 L95.19 389.07 L95.79 387.87 L96.39 386.71 L96.98 385.56 L97.58 384.41 L98.18 383.27 L98.78 382.14 L99.38 380.98 L99.98 379.83 L100.58 378.68 L101.17 377.55 L101.77 376.44 L102.37 375.33 L102.97 374.22 L103.57 373.12 L104.17 372.02 L104.77 370.93 L105.36 369.85 L105.96 368.77 L106.56 367.70 L107.16 366.63 L107.76 365.57 L108.36 364.51 L108.95 363.46 L109.55 362.42 L110.15 361.39 L110.75 360.36 L111.35 359.33 L111.95 358.32 L112.55 357.31 L113.14 356.30 L113.74 355.31 L114.34 354.32 L114.94 353.34 L115.54 352.37 L116.14 351.41 L116.74 350.45 L117.33 349.51 L117.93 348.58 L118.53 347.67 L119.13 346.77 L119.73 345.88 L120.33 345.00 L120.92 344.14 L121.52 343.29 L122.12 342.45 L122.72 341.62 L123.32 340.80 L123.92 339.99 L124.52 339.18 L125.11 338.39 L125.71 337.61 L126.31 336.84 L126.91 336.08 L127.51 335.35 L128.11 334.63 L128.71 333.93 L129.30 333.25 L129.90 332.58 L130.50 331.93 L131.10 331.30 L131.70 330.67 L132.30 330.06 L132.89 329.46 L133.49 328.87 L134.09 328.28 L134.69 327.71 L135.29 327.14 L135.89 326.57 L136.49 326.01 L137.08 325.45 L137.68 324.90 L138.28 324.36 L138.88 323.83 L139.48 323.32 L140.08 322.82 L140.68 322.35 L141.27 321.90 L141.87 321.48 L142.47 321.08 L143.07 320.71 L143.67 320.36 L144.27 320.02 L144.86 319.71 L145.46 319.40 L146.06 319.11 L146.66 318.83 L147.26 318.54 L147.86 318.25 L148.46 317.96 L149.05 317.68 L149.65 317.41 L150.25 317.16 L150.85 316.91 L151.45 316.69 L152.05 316.47 L152.65 316.28 L153.24 316.09 L153.84 315.93 L154.44 315.78 L155.04 315.65 L155.64 315.53 L156.24 315.44 L156.83 315.36 L157.43 315.30 L158.03 315.26 L158.63 315.25 L159.23 315.25 L159.83 315.26 L160.43 315.27 L161.02 315.30 L161.62 315.33 L162.22 315.37 L162.82 315.41 L163.42 315.46 L164.02 315.51 L164.62 315.56 L165.21 315.61 L165.81 315.66 L166.41 315.70 L167.01 315.75 L167.61 315.79 L168.21 315.84 L168.80 315.88 L169.40 315.94 L170.00 315.99 L170.60 316.05 L171.20 316.13 L171.80 316.20 L172.40 316.28 L172.99 316.35 L173.59 316.42 L174.19 316.49 L174.79 316.56 L175.39 316.62 L175.99 316.68 L176.59 316.73 L177.18 316.77 L177.78 316.81 L178.38 316.84 L178.98 316.85 L179.58 316.86 L180.18 316.85 L180.77 316.85 L181.37 316.83 L181.97 316.81 L182.57 316.79 L183.17 316.76 L183.77 316.73 L184.37 316.69 L184.96 316.65 L185.56 316.60 L186.16 316.56 L186.76 316.51 L187.36 316.45 L187.96 316.40 L188.56 316.34 L189.15 316.28 L189.75 316.22 L190.35 316.16 L190.95 316.10 L191.55 316.03 L192.15 315.97 L192.74 315.91 L193.34 315.84 L193.94 315.78 L194.54 315.72 L195.14 315.66 L195.74 315.59 L196.34 315.51 L196.93 315.43 L197.53 315.34 L198.13 315.25 L198.73 315.16 L199.33 315.07 L199.93 314.97 L200.53 314.87 L201.12 314.78 L201.72 314.68 L202.32 314.59 L202.92 314.49 L203.52 314.40 L204.12 314.32 L204.71 314.24 L205.31 314.16 L205.91 314.09 L206.51 314.02 L207.11 313.97 L207.71 313.92 L208.31 313.88 L208.90 313.85 L209.50 313.83 L210.10 313.82 L210.70 313.81 L211.30 313.82 L211.90 313.83 L212.50 313.85 L213.09 313.88 L213.69 313.91 L214.29 313.95 L214.89 313.99 L215.49 314.04 L216.09 314.09 L216.68 314.15 L217.28 314.21 L217.88 314.27 L218.48 314.33 L219.08 314.39 L219.68 314.46 L220.28 314.52 L220.87 314.59 L221.47 314.66 L222.07 314.72 L222.67 314.79 L223.27 314.85 L223.87 314.91 L224.47 314.96 L225.06 315.02 L225.66 315.08 L226.26 315.14 L226.86 315.21 L227.46 315.28 L228.06 315.35 L228.65 315.42 L229.25 315.50 L229.85 315.57 L230.45 315.65 L231.05 315.73 L231.65 315.80 L232.25 315.88 L232.84 315.96 L233.44 316.03 L234.04 316.11 L234.64 316.18 L235.24 316.25 L235.84 316.32 L236.44 316.39 L237.03 316.45 L237.63 316.51 L238.23 316.57 L238.83 316.63 L239.43 316.68 L240.03 316.72 L240.62 316.76 L241.22 316.80 L241.82 316.83 L242.42 316.86 L243.02 316.88 L243.62 316.89 L244.22 316.90 L244.81 316.91 L245.41 316.90 L246.01 316.80 L246.61 316.69 L247.21 316.58 L247.81 316.46 L248.41 316.33 L249.00 316.19 L249.60 316.05 L250.20 315.91 L250.80 315.75 L251.40 315.59 L252.00 315.42 L252.59 315.25 L253.19 315.07 L253.79 314.88 L254.39 314.68 L254.99 314.38 L255.59 314.06 L256.19 313.73 L256.78 313.40 L257.38 313.05 L257.98 312.69 L258.58 312.33 L259.18 311.96 L259.78 311.59 L260.38 311.21 L260.97 310.82 L261.57 310.44 L262.17 310.05 L262.77 309.66 L263.37 309.27 L263.97 308.89 L264.56 308.51 L265.16 308.13 L265.76 307.76 L266.36 307.39" fill="none" stroke="#1a1a1a" stroke-width="1.05" stroke-dasharray="3 2" stroke-opacity="0.65"/>
<path d="M56.88 272.54 L57.48 278.41 L58.08 284.28 L58.68 290.14 L59.28 295.98 L59.88 301.90 L60.48 307.96 L61.07 314.11 L61.67 320.25 L62.27 326.31 L62.87 332.20 L63.47 337.54 L64.07 342.81 L64.67 347.94 L65.26 352.87 L65.86 357.53 L66.46 361.90 L67.06 366.03 L67.66 369.94 L68.26 372.94 L68.86 375.76 L69.45 378.40 L70.05 380.83 L70.65 383.08 L71.25 385.17 L71.85 387.12 L72.45 389.14 L73.04 391.01 L73.64 392.73 L74.24 394.28 L74.84 395.65 L75.44 396.83 L76.04 397.83 L76.64 398.67 L77.23 399.36 L77.83 399.91 L78.43 400.78 L79.03 401.48 L79.63 402.04 L80.23 402.52 L80.83 402.94 L81.42 403.29 L82.02 403.55 L82.62 403.73 L83.22 403.87 L83.82 403.98 L84.42 404.26 L85.01 404.43 L85.61 404.42 L86.21 404.26 L86.81 404.01 L87.41 403.65 L88.01 403.17 L88.61 402.61 L89.20 401.99 L89.80 401.29 L90.40 400.46 L91.00 399.47 L91.60 398.34 L92.20 397.13 L92.80 395.85 L93.39 394.60 L93.99 393.33 L94.59 392.05 L95.19 390.78 L95.79 389.54 L96.39 388.34 L96.98 387.16 L97.58 385.98 L98.18 384.80 L98.78 383.63 L99.38 382.47 L99.98 381.31 L100.58 380.17 L101.17 379.03 L101.77 377.91 L102.37 376.79 L102.97 375.68 L103.57 374.58 L104.17 373.48 L104.77 372.38 L105.36 371.29 L105.96 370.21 L106.56 369.13 L107.16 368.06 L107.76 366.99 L108.36 365.93 L108.95 364.88 L109.55 363.84 L110.15 362.80 L110.75 361.76 L111.35 360.74 L111.95 359.71 L112.55 358.70 L113.14 357.69 L113.74 356.69 L114.34 355.70 L114.94 354.71 L115.54 353.74 L116.14 352.77 L116.74 351.81 L117.33 350.87 L117.93 349.93 L118.53 349.01 L119.13 348.11 L119.73 347.22 L120.33 346.34 L120.92 345.47 L121.52 344.61 L122.12 343.77 L122.72 342.94 L123.32 342.11 L123.92 341.29 L124.52 340.48 L125.11 339.69 L125.71 338.90 L126.31 338.13 L126.91 337.37 L127.51 336.63 L128.11 335.90 L128.71 335.20 L129.30 334.51 L129.90 333.84 L130.50 333.19 L131.10 332.55 L131.70 331.92 L132.30 331.30 L132.89 330.70 L133.49 330.10 L134.09 329.51 L134.69 328.93 L135.29 328.36 L135.89 327.79 L136.49 327.22 L137.08 326.66 L137.68 326.10 L138.28 325.55 L138.88 325.02 L139.48 324.51 L140.08 324.01 L140.68 323.53 L141.27 323.08 L141.87 322.65 L142.47 322.25 L143.07 321.87 L143.67 321.52 L144.27 321.18 L144.86 320.86 L145.46 320.55 L146.06 320.25 L146.66 319.96 L147.26 319.70 L147.86 319.44 L148.46 319.19 L149.05 318.93 L149.65 318.69 L150.25 318.46 L150.85 318.25 L151.45 318.05 L152.05 317.87 L152.65 317.70 L153.24 317.54 L153.84 317.41 L154.44 317.29 L155.04 317.18 L155.64 317.10 L156.24 317.03 L156.83 316.98 L157.43 316.95 L158.03 316.94 L158.63 316.95 L159.23 316.98 L159.83 317.02 L160.43 317.06 L161.02 317.12 L161.62 317.18 L162.22 317.24 L162.82 317.31 L163.42 317.39 L164.02 317.47 L164.62 317.54 L165.21 317.62 L165.81 317.70 L166.41 317.78 L167.01 317.85 L167.61 317.92 L168.21 317.99 L168.80 318.07 L169.40 318.15 L170.00 318.24 L170.60 318.32 L171.20 318.40 L171.80 318.47 L172.40 318.55 L172.99 318.62 L173.59 318.70 L174.19 318.77 L174.79 318.83 L175.39 318.90 L175.99 318.95 L176.59 319.00 L177.18 319.05 L177.78 319.08 L178.38 319.11 L178.98 319.12 L179.58 319.13 L180.18 319.13 L180.77 319.12 L181.37 319.10 L181.97 319.09 L182.57 319.06 L183.17 319.03 L183.77 319.00 L184.37 318.96 L184.96 318.92 L185.56 318.88 L186.16 318.83 L186.76 318.78 L187.36 318.72 L187.96 318.67 L188.56 318.61 L189.15 318.55 L189.75 318.49 L190.35 318.43 L190.95 318.37 L191.55 318.31 L192.15 318.24 L192.74 318.18 L193.34 318.12 L193.94 318.06 L194.54 317.99 L195.14 317.93 L195.74 317.86 L196.34 317.78 L196.93 317.70 L197.53 317.62 L198.13 317.53 L198.73 317.43 L199.33 317.34 L199.93 317.24 L200.53 317.15 L201.12 317.05 L201.72 316.95 L202.32 316.86 L202.92 316.77 L203.52 316.68 L204.12 316.59 L204.71 316.51 L205.31 316.43 L205.91 316.36 L206.51 316.30 L207.11 316.24 L207.71 316.19 L208.31 316.15 L208.90 316.12 L209.50 316.10 L210.10 316.09 L210.70 316.09 L211.30 316.09 L211.90 316.11 L212.50 316.13 L213.09 316.15 L213.69 316.18 L214.29 316.22 L214.89 316.27 L215.49 316.31 L216.09 316.36 L216.68 316.42 L217.28 316.48 L217.88 316.54 L218.48 316.60 L219.08 316.67 L219.68 316.73 L220.28 316.80 L220.87 316.86 L221.47 316.93 L222.07 316.99 L222.67 317.06 L223.27 317.12 L223.87 317.18 L224.47 317.24 L225.06 317.29 L225.66 317.35 L226.26 317.42 L226.86 317.48 L227.46 317.55 L228.06 317.62 L228.65 317.70 L229.25 317.77 L229.85 317.85 L230.45 317.92 L231.05 318.00 L231.65 318.08 L232.25 318.15 L232.84 318.23 L233.44 318.30 L234.04 318.38 L234.64 318.45 L235.24 318.52 L235.84 318.59 L236.44 318.66 L237.03 318.73 L237.63 318.79 L238.23 318.84 L238.83 318.90 L239.43 318.95 L240.03 319.00 L240.62 319.04 L241.22 319.07 L241.82 319.10 L242.42 319.13 L243.02 319.15 L243.62 319.17 L244.22 319.17 L244.81 319.18 L245.41 319.18 L246.01 319.24 L246.61 319.31 L247.21 319.36 L247.81 319.41 L248.41 319.45 L249.00 319.49 L249.60 319.52 L250.20 319.54 L250.80 319.56 L251.40 319.57 L252.00 319.57 L252.59 319.57 L253.19 319.56 L253.79 319.54 L254.39 319.51 L254.99 319.58 L255.59 319.63 L256.19 319.67 L256.78 319.70 L257.38 319.73 L257.98 319.74 L258.58 319.75 L259.18 319.74 L259.78 319.74 L260.38 319.73 L260.97 319.71 L261.57 319.70 L262.17 319.68 L262.77 319.66 L263.37 319.64 L263.97 319.63 L264.56 319.62 L265.16 319.61 L265.76 319.60 L266.36 319.60" fill="none" stroke="#1a1a1a" stroke-width="1.05" stroke-dasharray="3 2" stroke-opacity="0.65"/>
<path d="M56.88 362.50 L57.48 364.33 L58.08 366.19 L58.68 368.04 L59.28 369.82 L59.88 371.50 L60.48 373.06 L61.07 374.55 L61.67 375.95 L62.27 377.30 L62.87 378.60 L63.47 379.85 L64.07 381.05 L64.67 382.18 L65.26 383.26 L65.86 384.28 L66.46 385.24 L67.06 386.14 L67.66 386.98 L68.26 387.78 L68.86 388.55 L69.45 389.29 L70.05 390.00 L70.65 390.67 L71.25 391.29 L71.85 391.86 L72.45 392.37 L73.04 392.83 L73.64 393.24 L74.24 393.61 L74.84 393.94 L75.44 394.24 L76.04 394.50 L76.64 394.71 L77.23 394.91 L77.83 395.08 L78.43 395.24 L79.03 395.37 L79.63 395.40 L80.23 395.30 L80.83 395.09 L81.42 394.77 L82.02 394.32 L82.62 393.79 L83.22 393.23 L83.82 392.63 L84.42 391.97 L85.01 391.24 L85.61 390.44 L86.21 389.56 L86.81 388.62 L87.41 387.63 L88.01 386.59 L88.61 385.53 L89.20 384.44 L89.80 383.34 L90.40 382.22 L91.00 381.08 L91.60 379.92 L92.20 378.75 L92.80 377.57 L93.39 376.38 L93.99 375.20 L94.59 374.02 L95.19 372.86 L95.79 371.71 L96.39 370.58 L96.98 369.46 L97.58 368.35 L98.18 367.25 L98.78 366.15 L99.38 365.06 L99.98 363.98 L100.58 362.90 L101.17 361.82 L101.77 360.74 L102.37 359.66 L102.97 358.58 L103.57 357.50 L104.17 356.43 L104.77 355.36 L105.36 354.30 L105.96 353.25 L106.56 352.22 L107.16 351.21 L107.76 350.20 L108.36 349.20 L108.95 348.20 L109.55 347.22 L110.15 346.26 L110.75 345.33 L111.35 344.43 L111.95 343.56 L112.55 342.73 L113.14 341.93 L113.74 341.14 L114.34 340.38 L114.94 339.64 L115.54 338.91 L116.14 338.20 L116.74 337.50 L117.33 336.81 L117.93 336.14 L118.53 335.48 L119.13 334.84 L119.73 334.21 L120.33 333.61 L120.92 333.02 L121.52 332.44 L122.12 331.87 L122.72 331.32 L123.32 330.78 L123.92 330.25 L124.52 329.74 L125.11 329.24 L125.71 328.76 L126.31 328.29 L126.91 327.82 L127.51 327.37 L128.11 326.92 L128.71 326.47 L129.30 326.02 L129.90 325.58 L130.50 325.14 L131.10 324.72 L131.70 324.30 L132.30 323.89 L132.89 323.49 L133.49 323.10 L134.09 322.73 L134.69 322.37 L135.29 322.02 L135.89 321.69 L136.49 321.36 L137.08 321.05 L137.68 320.74 L138.28 320.44 L138.88 320.16 L139.48 319.88 L140.08 319.60 L140.68 319.34 L141.27 319.08 L141.87 318.84 L142.47 318.60 L143.07 318.38 L143.67 318.17 L144.27 317.98 L144.86 317.80 L145.46 317.65 L146.06 317.50 L146.66 317.37 L147.26 317.26 L147.86 317.15 L148.46 317.05 L149.05 316.96 L149.65 316.88 L150.25 316.80 L150.85 316.73 L151.45 316.65 L152.05 316.58 L152.65 316.51 L153.24 316.44 L153.84 316.37 L154.44 316.31 L155.04 316.26 L155.64 316.21 L156.24 316.17 L156.83 316.14 L157.43 316.12 L158.03 316.10 L158.63 316.10 L159.23 316.11 L159.83 316.13 L160.43 316.16 L161.02 316.20 L161.62 316.24 L162.22 316.30 L162.82 316.35 L163.42 316.41 L164.02 316.48 L164.62 316.54 L165.21 316.61 L165.81 316.68 L166.41 316.74 L167.01 316.80 L167.61 316.86 L168.21 316.91 L168.80 316.98 L169.40 317.04 L170.00 317.11 L170.60 317.19 L171.20 317.26 L171.80 317.34 L172.40 317.41 L172.99 317.49 L173.59 317.56 L174.19 317.63 L174.79 317.70 L175.39 317.76 L175.99 317.82 L176.59 317.87 L177.18 317.91 L177.78 317.95 L178.38 317.97 L178.98 317.99 L179.58 317.99 L180.18 317.99 L180.77 317.98 L181.37 317.97 L181.97 317.95 L182.57 317.92 L183.17 317.90 L183.77 317.86 L184.37 317.82 L184.96 317.78 L185.56 317.74 L186.16 317.69 L186.76 317.64 L187.36 317.59 L187.96 317.53 L188.56 317.48 L189.15 317.42 L189.75 317.36 L190.35 317.29 L190.95 317.23 L191.55 317.17 L192.15 317.11 L192.74 317.04 L193.34 316.98 L193.94 316.92 L194.54 316.86 L195.14 316.79 L195.74 316.72 L196.34 316.65 L196.93 316.56 L197.53 316.48 L198.13 316.39 L198.73 316.30 L199.33 316.20 L199.93 316.11 L200.53 316.01 L201.12 315.91 L201.72 315.82 L202.32 315.72 L202.92 315.63 L203.52 315.54 L204.12 315.45 L204.71 315.37 L205.31 315.30 L205.91 315.22 L206.51 315.16 L207.11 315.10 L207.71 315.05 L208.31 315.01 L208.90 314.98 L209.50 314.96 L210.10 314.95 L210.70 314.95 L211.30 314.96 L211.90 314.97 L212.50 314.99 L213.09 315.02 L213.69 315.05 L214.29 315.09 L214.89 315.13 L215.49 315.18 L216.09 315.23 L216.68 315.28 L217.28 315.34 L217.88 315.40 L218.48 315.47 L219.08 315.53 L219.68 315.60 L220.28 315.66 L220.87 315.73 L221.47 315.79 L222.07 315.86 L222.67 315.92 L223.27 315.98 L223.87 316.04 L224.47 316.10 L225.06 316.16 L225.66 316.22 L226.26 316.28 L226.86 316.35 L227.46 316.42 L228.06 316.49 L228.65 316.56 L229.25 316.63 L229.85 316.71 L230.45 316.79 L231.05 316.86 L231.65 316.94 L232.25 317.02 L232.84 317.09 L233.44 317.17 L234.04 317.24 L234.64 317.32 L235.24 317.39 L235.84 317.46 L236.44 317.52 L237.03 317.59 L237.63 317.65 L238.23 317.71 L238.83 317.76 L239.43 317.81 L240.03 317.86 L240.62 317.90 L241.22 317.94 L241.82 317.97 L242.42 317.99 L243.02 318.01 L243.62 318.03 L244.22 318.04 L244.81 318.04 L245.41 318.04 L246.01 318.03 L246.61 318.02 L247.21 318.00 L247.81 317.97 L248.41 317.94 L249.00 317.90 L249.60 317.85 L250.20 317.80 L250.80 317.74 L251.40 317.68 L252.00 317.60 L252.59 317.52 L253.19 317.43 L253.79 317.34 L254.39 317.24 L254.99 317.12 L255.59 317.00 L256.19 316.86 L256.78 316.71 L257.38 316.55 L257.98 316.39 L258.58 316.21 L259.18 316.03 L259.78 315.85 L260.38 315.66 L260.97 315.46 L261.57 315.27 L262.17 315.07 L262.77 314.87 L263.37 314.67 L263.97 314.48 L264.56 314.28 L265.16 314.10 L265.76 313.91 L266.36 313.73" fill="none" stroke="#5059a6" stroke-width="1.0"/>
<path d="M56.88 332.20 L57.48 336.02 L58.08 339.87 L58.68 343.70 L59.28 347.47 L59.88 351.14 L60.48 354.88 L61.07 358.54 L61.67 362.13 L62.27 365.65 L62.87 369.13 L63.47 371.33 L64.07 373.47 L64.67 375.55 L65.26 377.58 L65.86 379.55 L66.46 380.79 L67.06 381.97 L67.66 383.09 L68.26 384.18 L68.86 385.23 L69.45 386.02 L70.05 386.78 L70.65 387.50 L71.25 388.17 L71.85 388.78 L72.45 389.34 L73.04 389.84 L73.64 390.30 L74.24 390.72 L74.84 391.10 L75.44 391.54 L76.04 391.94 L76.64 392.30 L77.23 392.63 L77.83 392.95 L78.43 393.25 L79.03 393.52 L79.63 393.69 L80.23 393.74 L80.83 393.67 L81.42 393.41 L82.02 393.02 L82.62 392.54 L83.22 392.04 L83.82 391.49 L84.42 390.89 L85.01 390.22 L85.61 389.47 L86.21 388.65 L86.81 387.77 L87.41 386.83 L88.01 385.85 L88.61 384.84 L89.20 383.81 L89.80 382.77 L90.40 381.65 L91.00 380.51 L91.60 379.35 L92.20 378.18 L92.80 377.00 L93.39 375.82 L93.99 374.63 L94.59 373.46 L95.19 372.29 L95.79 371.14 L96.39 370.01 L96.98 368.89 L97.58 367.78 L98.18 366.68 L98.78 365.58 L99.38 364.49 L99.98 363.41 L100.58 362.33 L101.17 361.25 L101.77 360.17 L102.37 359.09 L102.97 358.01 L103.57 356.93 L104.17 355.86 L104.77 354.79 L105.36 353.73 L105.96 352.68 L106.56 351.65 L107.16 350.64 L107.76 349.63 L108.36 348.63 L108.95 347.63 L109.55 346.65 L110.15 345.69 L110.75 344.76 L111.35 343.86 L111.95 342.99 L112.55 342.16 L113.14 341.36 L113.74 340.57 L114.34 339.81 L114.94 339.07 L115.54 338.34 L116.14 337.63 L116.74 336.93 L117.33 336.24 L117.93 335.57 L118.53 334.91 L119.13 334.27 L119.73 333.65 L120.33 333.04 L120.92 332.45 L121.52 331.87 L122.12 331.31 L122.72 330.75 L123.32 330.21 L123.92 329.68 L124.52 329.17 L125.11 328.67 L125.71 328.19 L126.31 327.72 L126.91 327.25 L127.51 326.80 L128.11 326.35 L128.71 325.90 L129.30 325.45 L129.90 325.01 L130.50 324.58 L131.10 324.15 L131.70 323.73 L132.30 323.32 L132.89 322.92 L133.49 322.53 L134.09 322.16 L134.69 321.80 L135.29 321.46 L135.89 321.12 L136.49 320.79 L137.08 320.48 L137.68 320.17 L138.28 319.88 L138.88 319.59 L139.48 319.31 L140.08 319.04 L140.68 318.77 L141.27 318.51 L141.87 318.27 L142.47 318.03 L143.07 317.81 L143.67 317.60 L144.27 317.41 L144.86 317.24 L145.46 317.08 L146.06 316.93 L146.66 316.80 L147.26 316.68 L147.86 316.56 L148.46 316.45 L149.05 316.36 L149.65 316.26 L150.25 316.18 L150.85 316.09 L151.45 316.01 L152.05 315.93 L152.65 315.84 L153.24 315.77 L153.84 315.69 L154.44 315.62 L155.04 315.56 L155.64 315.50 L156.24 315.45 L156.83 315.41 L157.43 315.38 L158.03 315.35 L158.63 315.34 L159.23 315.34 L159.83 315.35 L160.43 315.37 L161.02 315.40 L161.62 315.44 L162.22 315.48 L162.82 315.53 L163.42 315.58 L164.02 315.64 L164.62 315.69 L165.21 315.75 L165.81 315.81 L166.41 315.86 L167.01 315.91 L167.61 315.96 L168.21 316.01 L168.80 316.06 L169.40 316.12 L170.00 316.18 L170.60 316.24 L171.20 316.32 L171.80 316.39 L172.40 316.47 L172.99 316.54 L173.59 316.61 L174.19 316.68 L174.79 316.75 L175.39 316.81 L175.99 316.87 L176.59 316.92 L177.18 316.96 L177.78 317.00 L178.38 317.02 L178.98 317.04 L179.58 317.05 L180.18 317.04 L180.77 317.04 L181.37 317.02 L181.97 317.00 L182.57 316.98 L183.17 316.95 L183.77 316.92 L184.37 316.88 L184.96 316.84 L185.56 316.79 L186.16 316.74 L186.76 316.69 L187.36 316.64 L187.96 316.59 L188.56 316.53 L189.15 316.47 L189.75 316.41 L190.35 316.35 L190.95 316.29 L191.55 316.22 L192.15 316.16 L192.74 316.10 L193.34 316.03 L193.94 315.97 L194.54 315.91 L195.14 315.85 L195.74 315.78 L196.34 315.70 L196.93 315.62 L197.53 315.53 L198.13 315.44 L198.73 315.35 L199.33 315.26 L199.93 315.16 L200.53 315.06 L201.12 314.97 L201.72 314.87 L202.32 314.77 L202.92 314.68 L203.52 314.59 L204.12 314.51 L204.71 314.42 L205.31 314.35 L205.91 314.28 L206.51 314.21 L207.11 314.16 L207.71 314.11 L208.31 314.07 L208.90 314.04 L209.50 314.02 L210.10 314.01 L210.70 314.00 L211.30 314.01 L211.90 314.02 L212.50 314.04 L213.09 314.07 L213.69 314.10 L214.29 314.14 L214.89 314.18 L215.49 314.23 L216.09 314.28 L216.68 314.34 L217.28 314.39 L217.88 314.46 L218.48 314.52 L219.08 314.58 L219.68 314.65 L220.28 314.71 L220.87 314.78 L221.47 314.85 L222.07 314.91 L222.67 314.98 L223.27 315.04 L223.87 315.10 L224.47 315.15 L225.06 315.21 L225.66 315.27 L226.26 315.33 L226.86 315.40 L227.46 315.47 L228.06 315.54 L228.65 315.61 L229.25 315.69 L229.85 315.76 L230.45 315.84 L231.05 315.92 L231.65 315.99 L232.25 316.07 L232.84 316.15 L233.44 316.22 L234.04 316.30 L234.64 316.37 L235.24 316.44 L235.84 316.51 L236.44 316.58 L237.03 316.64 L237.63 316.70 L238.23 316.76 L238.83 316.82 L239.43 316.87 L240.03 316.91 L240.62 316.95 L241.22 316.99 L241.82 317.02 L242.42 317.05 L243.02 317.07 L243.62 317.08 L244.22 317.09 L244.81 317.09 L245.41 317.09 L246.01 316.99 L246.61 316.88 L247.21 316.77 L247.81 316.65 L248.41 316.52 L249.00 316.38 L249.60 316.24 L250.20 316.10 L250.80 315.94 L251.40 315.78 L252.00 315.61 L252.59 315.44 L253.19 315.26 L253.79 315.07 L254.39 314.87 L254.99 314.57 L255.59 314.25 L256.19 313.92 L256.78 313.59 L257.38 313.24 L257.98 312.88 L258.58 312.52 L259.18 312.15 L259.78 311.77 L260.38 311.39 L260.97 311.01 L261.57 310.63 L262.17 310.24 L262.77 309.85 L263.37 309.46 L263.97 309.08 L264.56 308.70 L265.16 308.32 L265.76 307.94 L266.36 307.58" fill="none" stroke="#5059a6" stroke-width="1.05" stroke-dasharray="3 2" stroke-opacity="0.65"/>
<path d="M56.88 389.97 L57.48 390.97 L58.08 392.01 L58.68 393.04 L59.28 394.00 L59.88 394.86 L60.48 395.60 L61.07 396.26 L61.67 396.85 L62.27 397.38 L62.87 397.86 L63.47 398.29 L64.07 398.66 L64.67 398.98 L65.26 399.23 L65.86 399.44 L66.46 399.72 L67.06 399.95 L67.66 400.12 L68.26 400.25 L68.86 400.34 L69.45 400.42 L70.05 400.46 L70.65 400.45 L71.25 400.41 L71.85 400.30 L72.45 400.14 L73.04 399.93 L73.64 399.95 L74.24 399.93 L74.84 399.88 L75.44 399.79 L76.04 399.66 L76.64 399.49 L77.23 399.30 L77.83 399.08 L78.43 398.86 L79.03 398.59 L79.63 398.24 L80.23 397.98 L80.83 397.62 L81.42 397.14 L82.02 396.53 L82.62 395.84 L83.22 395.12 L83.82 394.36 L84.42 393.55 L85.01 392.66 L85.61 391.70 L86.21 390.67 L86.81 389.57 L87.41 388.54 L88.01 387.48 L88.61 386.38 L89.20 385.26 L89.80 384.13 L90.40 382.98 L91.00 381.81 L91.60 380.62 L92.20 379.41 L92.80 378.20 L93.39 376.98 L93.99 375.77 L94.59 374.56 L95.19 373.36 L95.79 372.18 L96.39 371.05 L96.98 369.93 L97.58 368.83 L98.18 367.72 L98.78 366.63 L99.38 365.54 L99.98 364.46 L100.58 363.38 L101.17 362.30 L101.77 361.22 L102.37 360.15 L102.97 359.07 L103.57 357.99 L104.17 356.91 L104.77 355.85 L105.36 354.79 L105.96 353.74 L106.56 352.71 L107.16 351.70 L107.76 350.70 L108.36 349.69 L108.95 348.70 L109.55 347.72 L110.15 346.76 L110.75 345.83 L111.35 344.93 L111.95 344.07 L112.55 343.24 L113.14 342.43 L113.74 341.65 L114.34 340.89 L114.94 340.14 L115.54 339.42 L116.14 338.71 L116.74 338.01 L117.33 337.33 L117.93 336.65 L118.53 335.99 L119.13 335.35 L119.73 334.73 L120.33 334.13 L120.92 333.54 L121.52 332.96 L122.12 332.40 L122.72 331.85 L123.32 331.30 L123.92 330.78 L124.52 330.26 L125.11 329.77 L125.71 329.29 L126.31 328.82 L126.91 328.35 L127.51 327.90 L128.11 327.45 L128.71 327.00 L129.30 326.56 L129.90 326.12 L130.50 325.68 L131.10 325.25 L131.70 324.84 L132.30 324.43 L132.89 324.03 L133.49 323.64 L134.09 323.27 L134.69 322.92 L135.29 322.57 L135.89 322.24 L136.49 321.91 L137.08 321.60 L137.68 321.29 L138.28 321.00 L138.88 320.71 L139.48 320.43 L140.08 320.16 L140.68 319.90 L141.27 319.64 L141.87 319.40 L142.47 319.16 L143.07 318.94 L143.67 318.73 L144.27 318.54 L144.86 318.37 L145.46 318.21 L146.06 318.07 L146.66 317.94 L147.26 317.83 L147.86 317.74 L148.46 317.65 L149.05 317.57 L149.65 317.49 L150.25 317.43 L150.85 317.36 L151.45 317.30 L152.05 317.23 L152.65 317.17 L153.24 317.11 L153.84 317.06 L154.44 317.01 L155.04 316.96 L155.64 316.92 L156.24 316.89 L156.83 316.87 L157.43 316.85 L158.03 316.85 L158.63 316.86 L159.23 316.88 L159.83 316.91 L160.43 316.95 L161.02 316.99 L161.62 317.05 L162.22 317.11 L162.82 317.18 L163.42 317.25 L164.02 317.32 L164.62 317.40 L165.21 317.47 L165.81 317.55 L166.41 317.62 L167.01 317.69 L167.61 317.76 L168.21 317.82 L168.80 317.90 L169.40 317.97 L170.00 318.05 L170.60 318.13 L171.20 318.21 L171.80 318.28 L172.40 318.36 L172.99 318.44 L173.59 318.51 L174.19 318.58 L174.79 318.64 L175.39 318.71 L175.99 318.76 L176.59 318.81 L177.18 318.86 L177.78 318.89 L178.38 318.92 L178.98 318.94 L179.58 318.94 L180.18 318.94 L180.77 318.93 L181.37 318.92 L181.97 318.90 L182.57 318.87 L183.17 318.84 L183.77 318.81 L184.37 318.77 L184.96 318.73 L185.56 318.69 L186.16 318.64 L186.76 318.59 L187.36 318.54 L187.96 318.48 L188.56 318.42 L189.15 318.36 L189.75 318.30 L190.35 318.24 L190.95 318.18 L191.55 318.12 L192.15 318.05 L192.74 317.99 L193.34 317.93 L193.94 317.87 L194.54 317.80 L195.14 317.74 L195.74 317.67 L196.34 317.59 L196.93 317.51 L197.53 317.43 L198.13 317.34 L198.73 317.24 L199.33 317.15 L199.93 317.05 L200.53 316.96 L201.12 316.86 L201.72 316.76 L202.32 316.67 L202.92 316.58 L203.52 316.49 L204.12 316.40 L204.71 316.32 L205.31 316.24 L205.91 316.17 L206.51 316.11 L207.11 316.05 L207.71 316.00 L208.31 315.96 L208.90 315.93 L209.50 315.91 L210.10 315.90 L210.70 315.90 L211.30 315.90 L211.90 315.92 L212.50 315.94 L213.09 315.96 L213.69 316.00 L214.29 316.03 L214.89 316.08 L215.49 316.12 L216.09 316.18 L216.68 316.23 L217.28 316.29 L217.88 316.35 L218.48 316.41 L219.08 316.48 L219.68 316.54 L220.28 316.61 L220.87 316.67 L221.47 316.74 L222.07 316.81 L222.67 316.87 L223.27 316.93 L223.87 316.99 L224.47 317.05 L225.06 317.10 L225.66 317.16 L226.26 317.23 L226.86 317.29 L227.46 317.36 L228.06 317.43 L228.65 317.51 L229.25 317.58 L229.85 317.66 L230.45 317.73 L231.05 317.81 L231.65 317.89 L232.25 317.96 L232.84 318.04 L233.44 318.12 L234.04 318.19 L234.64 318.26 L235.24 318.33 L235.84 318.40 L236.44 318.47 L237.03 318.54 L237.63 318.60 L238.23 318.66 L238.83 318.71 L239.43 318.76 L240.03 318.81 L240.62 318.85 L241.22 318.88 L241.82 318.92 L242.42 318.94 L243.02 318.96 L243.62 318.98 L244.22 318.98 L244.81 318.99 L245.41 318.99 L246.01 319.05 L246.61 319.12 L247.21 319.17 L247.81 319.22 L248.41 319.26 L249.00 319.30 L249.60 319.33 L250.20 319.35 L250.80 319.37 L251.40 319.38 L252.00 319.38 L252.59 319.38 L253.19 319.37 L253.79 319.35 L254.39 319.32 L254.99 319.39 L255.59 319.44 L256.19 319.48 L256.78 319.51 L257.38 319.54 L257.98 319.55 L258.58 319.56 L259.18 319.56 L259.78 319.55 L260.38 319.54 L260.97 319.52 L261.57 319.51 L262.17 319.49 L262.77 319.47 L263.37 319.46 L263.97 319.44 L264.56 319.43 L265.16 319.42 L265.76 319.41 L266.36 319.41" fill="none" stroke="#5059a6" stroke-width="1.05" stroke-dasharray="3 2" stroke-opacity="0.65"/>
<rect x="48.6" y="231.2" width="226.30" height="192.00" fill="none" stroke="#4a4a4a" stroke-width="1.1"/>
<path d="M43.4 269.50H48.6" stroke="#444" stroke-width="1.05"/>
<text transform="translate(38.3 271.40) rotate(-90) scale(1.08 1)" font-size="9.2" text-anchor="middle" stroke="#000" stroke-width="0.25">0.5</text>
<path d="M43.4 316.60H48.6" stroke="#444" stroke-width="1.05"/>
<text transform="translate(38.3 318.50) rotate(-90) scale(1.08 1)" font-size="9.2" text-anchor="middle" stroke="#000" stroke-width="0.25">0.0</text>
<path d="M43.4 363.70H48.6" stroke="#444" stroke-width="1.05"/>
<text transform="translate(38.3 365.60) rotate(-90) scale(1.08 1)" font-size="9.2" text-anchor="middle" stroke="#000" stroke-width="0.25">−0.5</text>
<path d="M43.4 410.80H48.6" stroke="#444" stroke-width="1.05"/>
<text transform="translate(38.3 412.70) rotate(-90) scale(1.08 1)" font-size="9.2" text-anchor="middle" stroke="#000" stroke-width="0.25">−1.0</text>
<text transform="translate(14.6 329.5) rotate(-90)" font-size="9.9" text-anchor="middle" stroke="#000" stroke-width="0.2">dContractility/dt</text>
<path d="M50.90 423.2V429.2" stroke="#444" stroke-width="1.05"/>
<text x="50.90" y="440.9" font-size="9.6" text-anchor="middle" stroke="#000" stroke-width="0.3">0</text>
<path d="M80.83 423.2V429.2" stroke="#444" stroke-width="1.05"/>
<text x="80.83" y="440.9" font-size="9.6" text-anchor="middle" stroke="#000" stroke-width="0.3">50</text>
<path d="M110.75 423.2V429.2" stroke="#444" stroke-width="1.05"/>
<text x="110.75" y="440.9" font-size="9.6" text-anchor="middle" stroke="#000" stroke-width="0.3">100</text>
<path d="M140.68 423.2V429.2" stroke="#444" stroke-width="1.05"/>
<text x="140.68" y="440.9" font-size="9.6" text-anchor="middle" stroke="#000" stroke-width="0.3">150</text>
<path d="M170.60 423.2V429.2" stroke="#444" stroke-width="1.05"/>
<text x="170.60" y="440.9" font-size="9.6" text-anchor="middle" stroke="#000" stroke-width="0.3">200</text>
<path d="M200.53 423.2V429.2" stroke="#444" stroke-width="1.05"/>
<text x="200.53" y="440.9" font-size="9.6" text-anchor="middle" stroke="#000" stroke-width="0.3">250</text>
<path d="M230.45 423.2V429.2" stroke="#444" stroke-width="1.05"/>
<text x="230.45" y="440.9" font-size="9.6" text-anchor="middle" stroke="#000" stroke-width="0.3">300</text>
<path d="M260.38 423.2V429.2" stroke="#444" stroke-width="1.05"/>
<text x="260.38" y="440.9" font-size="9.6" text-anchor="middle" stroke="#000" stroke-width="0.3">350</text>
<text x="161.9" y="455.6" font-size="10.2" text-anchor="middle" stroke="#000" stroke-width="0.25">Time</text>
<path d="M181.2 255.8H195.9" stroke="#c06464" stroke-width="1.9"/>
<text x="198.6" y="259.20" font-size="9.5" stroke="#000" stroke-width="0.22">CON</text>
<path d="M181.2 269.2H195.9" stroke="#111" stroke-width="1.6"/>
<text x="198.6" y="272.60" font-size="9.5" stroke="#000" stroke-width="0.22">PDOX-CON</text>
<path d="M181.2 282.5H195.9" stroke="#4a52a4" stroke-width="1.4"/>
<text x="198.6" y="285.90" font-size="9.5" stroke="#000" stroke-width="0.22">PDOX</text>
</g>
<g id="D">
<text x="297.2" y="233.6" font-size="15.6" font-weight="bold">D</text>
<path d="M337.0 242.4V277.3M335.0 277.3H339.4" fill="none" stroke="#000" stroke-width="1.4"/>
<path d="M335.0 285.9H339.4M337.0 285.9V356.9H503.8" fill="none" stroke="#000" stroke-width="1.4"/>
<path d="M334.2 243.00H337.0" stroke="#000" stroke-width="1.2"/>
<text transform="translate(333.6 245.90) scale(1 1.15)" font-size="8" font-weight="bold" text-anchor="end">160</text>
<path d="M334.2 252.07H337.0" stroke="#000" stroke-width="1.2"/>
<text transform="translate(333.6 254.97) scale(1 1.15)" font-size="8" font-weight="bold" text-anchor="end">140</text>
<path d="M334.2 261.13H337.0" stroke="#000" stroke-width="1.2"/>
<text transform="translate(333.6 264.03) scale(1 1.15)" font-size="8" font-weight="bold" text-anchor="end">120</text>
<path d="M334.2 270.20H337.0" stroke="#000" stroke-width="1.2"/>
<text transform="translate(333.6 273.10) scale(1 1.15)" font-size="8" font-weight="bold" text-anchor="end">100</text>
<path d="M334.2 286.61H337.0" stroke="#000" stroke-width="1.2"/>
<text transform="translate(333.6 289.51) scale(1 1.15)" font-size="8" font-weight="bold" text-anchor="end">60</text>
<path d="M334.2 310.04H337.0" stroke="#000" stroke-width="1.2"/>
<text transform="translate(333.6 312.94) scale(1 1.15)" font-size="8" font-weight="bold" text-anchor="end">40</text>
<path d="M334.2 333.47H337.0" stroke="#000" stroke-width="1.2"/>
<text transform="translate(333.6 336.37) scale(1 1.15)" font-size="8" font-weight="bold" text-anchor="end">20</text>
<path d="M334.2 356.90H337.0" stroke="#000" stroke-width="1.2"/>
<text transform="translate(333.6 359.80) scale(1 1.15)" font-size="8" font-weight="bold" text-anchor="end">0</text>
<text transform="translate(315.5 301.9) rotate(-90) scale(0.94 1)" font-size="9.9" font-weight="bold" text-anchor="middle" stroke="#000" stroke-width="0.12">Muscle weight (mg)</text>
<path d="M346.90 347.6V346.6M344.20 346.6H349.60" stroke="#000" stroke-width="1.3"/>
<rect x="343.05" y="347.6" width="7.7" height="9.30" fill="#fff" stroke="#000" stroke-width="1.35"/>
<path d="M358.20 348.5V347.5M355.50 347.5H360.90" stroke="#000" stroke-width="1.3"/>
<rect x="354.35" y="348.5" width="7.7" height="8.40" fill="url(#dots2)" stroke="#000" stroke-width="1.35"/>
<path d="M369.50 348.8V347.8M366.80 347.8H372.20" stroke="#000" stroke-width="1.3"/>
<rect x="365.65" y="348.8" width="7.7" height="8.10" fill="#acacc4" stroke="#000" stroke-width="1.35"/>
<path d="M358.2 356.9V360.2" stroke="#000" stroke-width="1.2"/>
<path d="M389.10 344.2V343.0M386.40 343.0H391.80" stroke="#000" stroke-width="1.3"/>
<rect x="385.25" y="344.2" width="7.7" height="12.70" fill="#fff" stroke="#000" stroke-width="1.35"/>
<path d="M400.40 345.6V344.5M397.70 344.5H403.10" stroke="#000" stroke-width="1.3"/>
<rect x="396.55" y="345.6" width="7.7" height="11.30" fill="url(#dots2)" stroke="#000" stroke-width="1.35"/>
<path d="M411.70 346.2V345.0M409.00 345.0H414.40" stroke="#000" stroke-width="1.3"/>
<rect x="407.85" y="346.2" width="7.7" height="10.70" fill="#acacc4" stroke="#000" stroke-width="1.35"/>
<path d="M400.4 356.9V360.2" stroke="#000" stroke-width="1.2"/>
<path d="M431.00 305.0V303.3M428.30 303.3H433.70" stroke="#000" stroke-width="1.3"/>
<rect x="427.15" y="305.0" width="7.7" height="51.90" fill="#fff" stroke="#000" stroke-width="1.35"/>
<path d="M442.30 309.0V306.4M439.60 306.4H445.00" stroke="#000" stroke-width="1.3"/>
<rect x="438.45" y="309.0" width="7.7" height="47.90" fill="url(#dots2)" stroke="#000" stroke-width="1.35"/>
<path d="M453.60 297.3V293.4M450.90 293.4H456.30" stroke="#000" stroke-width="1.3"/>
<rect x="449.75" y="297.3" width="7.7" height="59.60" fill="#acacc4" stroke="#000" stroke-width="1.35"/>
<path d="M442.3 356.9V360.2" stroke="#000" stroke-width="1.2"/>
<path d="M473.20 255.1V252.2M470.50 252.2H475.90" stroke="#000" stroke-width="1.3"/>
<rect x="469.35" y="255.1" width="7.7" height="101.80" fill="#fff" stroke="#000" stroke-width="1.35"/>
<path d="M484.50 267.3V263.6M481.80 263.6H487.20" stroke="#000" stroke-width="1.3"/>
<rect x="480.65" y="267.3" width="7.7" height="89.60" fill="url(#dots2)" stroke="#000" stroke-width="1.35"/>
<path d="M495.80 253.0V248.4M493.10 248.4H498.50" stroke="#000" stroke-width="1.3"/>
<rect x="491.95" y="253.0" width="7.7" height="103.90" fill="#acacc4" stroke="#000" stroke-width="1.35"/>
<path d="M484.5 356.9V360.2" stroke="#000" stroke-width="1.2"/>
<rect x="466" y="278" width="37" height="8.6" fill="#fff"/>
<text transform="translate(361.60 368.8) rotate(-45)" font-size="8.8" font-weight="bold" text-anchor="end">Soleus</text>
<text transform="translate(403.80 368.8) rotate(-45)" font-size="8.8" font-weight="bold" text-anchor="end">EDL</text>
<text transform="translate(445.70 368.8) rotate(-45)" font-size="8.8" font-weight="bold" text-anchor="end">TA</text>
<text transform="translate(487.90 368.8) rotate(-45)" font-size="8.8" font-weight="bold" text-anchor="end">Gastroc</text>
<rect x="349.4" y="250.70" width="12.2" height="5.6" fill="#fff" stroke="#000" stroke-width="1.5"/>
<text x="368.7" y="256.90" font-size="9.3" stroke="#000" stroke-width="0.2">CON</text>
<rect x="349.4" y="263.40" width="12.2" height="5.6" fill="url(#dots2)" stroke="#000" stroke-width="1.5"/>
<text x="368.7" y="269.60" font-size="9.3" stroke="#000" stroke-width="0.2">PDOX-CON</text>
<rect x="349.4" y="276.30" width="12.2" height="5.6" fill="#acacc4" stroke="#000" stroke-width="1.5"/>
<text x="368.7" y="282.50" font-size="9.3" stroke="#000" stroke-width="0.2">PDOX</text>
</g>
</svg></body></html>
